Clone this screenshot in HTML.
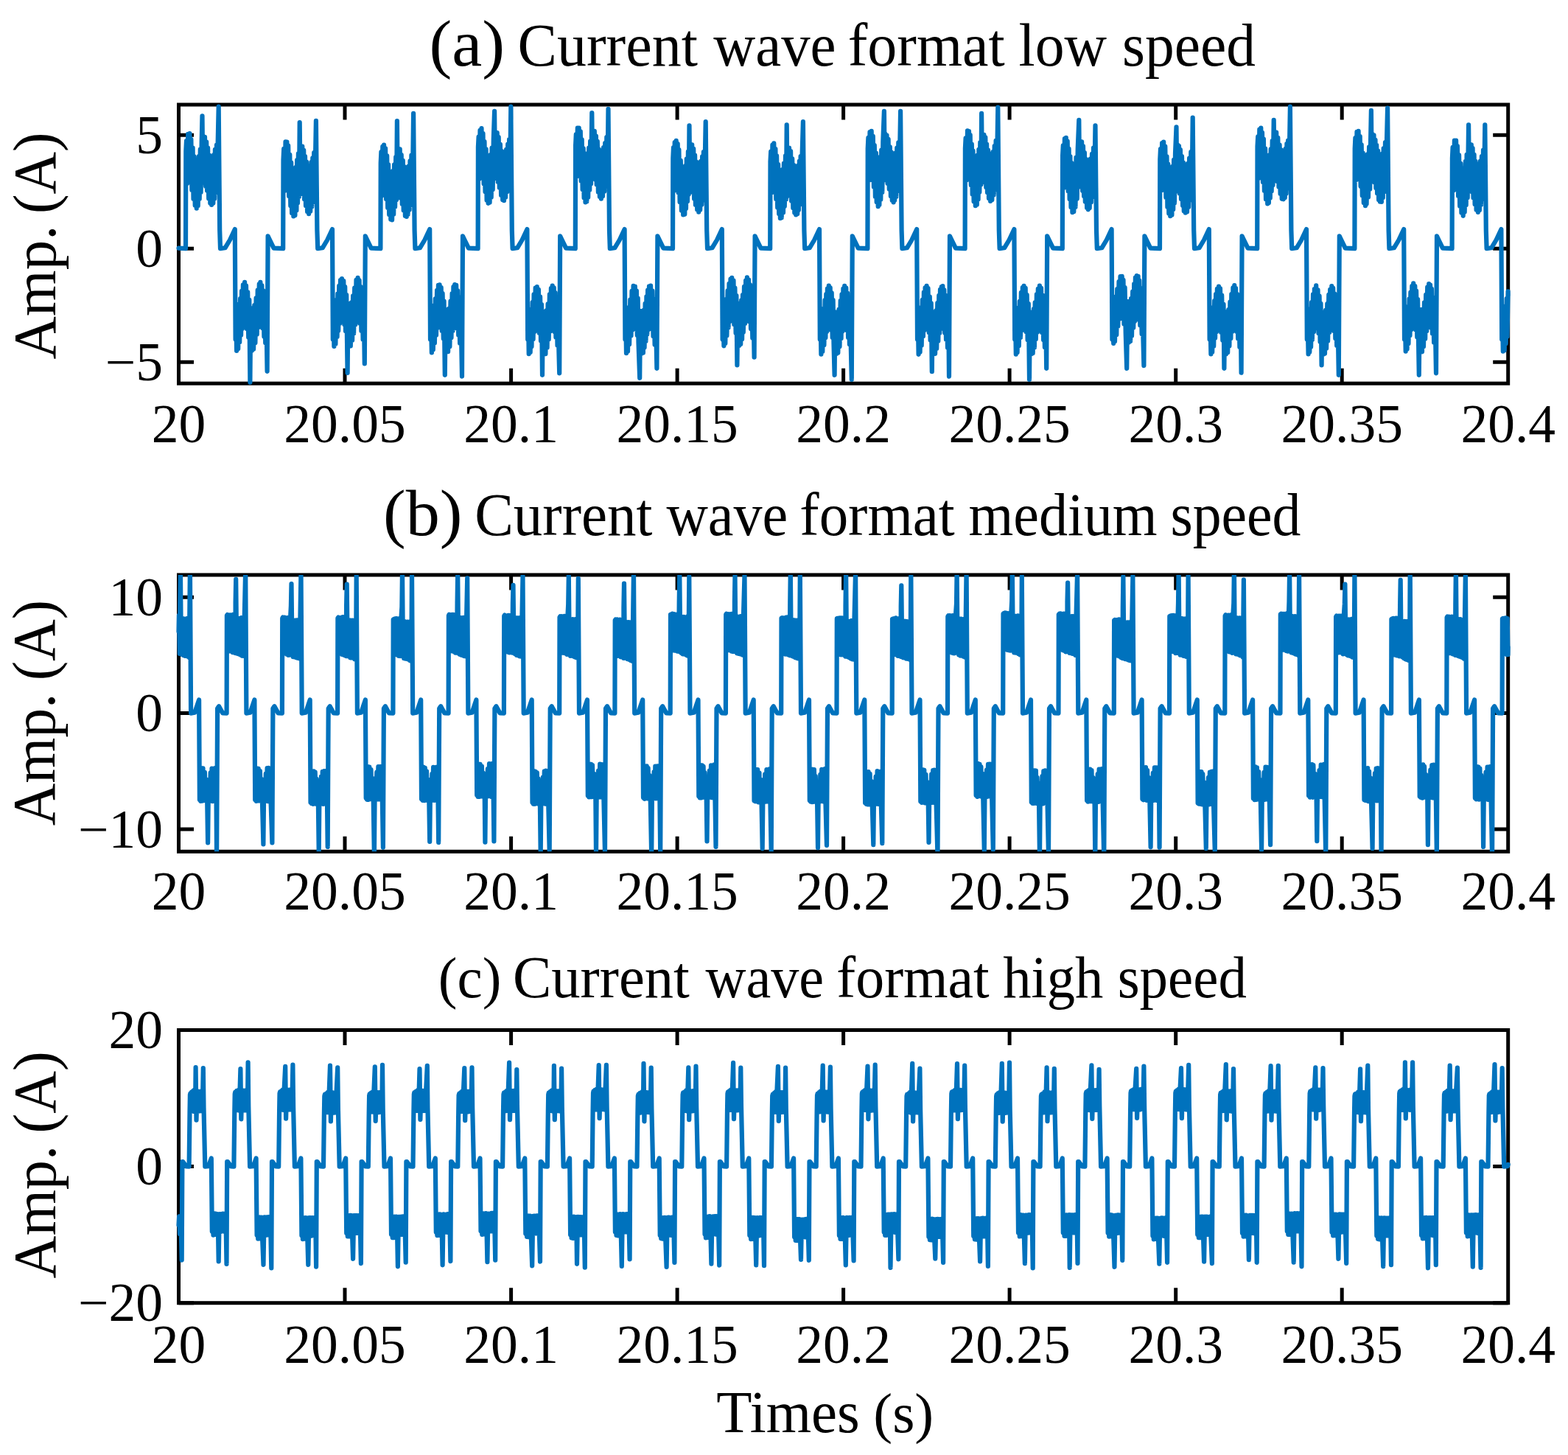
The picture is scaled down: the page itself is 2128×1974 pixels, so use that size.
<!DOCTYPE html><html><head><meta charset="utf-8"><title>Current wave format</title>
<style>html,body{margin:0;padding:0;background:#fff;overflow:hidden;}svg{display:block;}text{font-family:'Liberation Serif','Times New Roman',Times,serif;fill:#000;}</style></head><body>
<svg width="2128" height="1974" viewBox="0 0 2128 1974">
<rect width="2128" height="1974" fill="#fff"/>
<g stroke="#000" stroke-width="5.0" fill="none">
<rect x="242.5" y="142.0" width="1804.2" height="378.2"/>
<path d="M468.0 520.2v-20.5M468.0 142.0v20.5M693.6 520.2v-20.5M693.6 142.0v20.5M919.1 520.2v-20.5M919.1 142.0v20.5M1144.6 520.2v-20.5M1144.6 142.0v20.5M1370.1 520.2v-20.5M1370.1 142.0v20.5M1595.7 520.2v-20.5M1595.7 142.0v20.5M1821.2 520.2v-20.5M1821.2 142.0v20.5M242.5 183.2h20.5M2046.7 183.2h-20.5M242.5 337.2h20.5M2046.7 337.2h-20.5M242.5 491.2h20.5M2046.7 491.2h-20.5"/>
</g>
<polyline fill="none" stroke="#0072BD" stroke-width="6.2" stroke-linejoin="round" stroke-linecap="round" points="242.5,336.7 251.7,337.2 252.0,337.2 252.3,205.1 253.0,191.2 254.1,249.0 255.2,181.8 256.3,243.8 257.4,181.0 258.3,246.9 259.4,189.2 260.4,257.9 261.6,200.6 262.5,270.0 263.6,212.3 264.7,278.8 265.8,220.2 266.8,282.7 267.7,218.5 268.7,279.3 269.9,212.0 270.7,270.0 271.8,202.5 272.6,261.0 273.7,192.5 274.5,157.3 275.3,232.8 276.0,186.2 277.1,247.6 278.0,185.8 279.2,252.8 280.2,192.6 281.1,258.8 282.1,200.5 283.2,269.4 284.4,210.9 285.3,275.6 286.2,214.9 287.1,278.0 288.1,214.5 289.3,275.7 290.3,209.9 291.1,269.8 291.9,202.8 292.9,261.8 294.0,196.5 294.9,256.0 295.7,191.0 296.7,144.7 298.2,312.6 299.0,337.2 305.5,336.3 312.0,325.5 318.8,311.0 319.6,460.4 320.3,420.3 321.1,476.0 322.1,419.5 323.2,473.3 324.3,412.7 325.2,464.3 326.1,405.2 327.1,454.8 328.0,394.9 328.9,445.9 329.9,386.3 331.0,439.3 332.1,382.8 333.0,440.4 334.0,387.6 335.0,446.3 336.2,396.4 337.2,457.8 338.3,406.9 339.4,518.6 340.2,429.6 341.0,418.1 341.9,475.8 343.0,420.0 344.1,473.6 345.3,414.2 346.4,465.3 347.6,404.3 348.7,453.7 349.7,393.6 350.6,444.3 351.8,385.3 352.6,439.8 353.4,382.9 354.3,439.3 355.4,387.3 356.2,445.3 357.3,394.3 358.4,456.7 359.4,405.1 360.2,465.1 361.2,415.0 362.6,503.8 363.6,320.3 365.0,323.3 371.5,336.6 383.9,337.2 384.2,337.2 384.5,216.8 385.2,201.9 386.4,259.0 387.5,192.3 388.5,255.0 389.4,192.6 390.4,258.2 391.2,197.5 392.2,266.1 393.3,209.9 394.3,279.3 395.2,220.7 396.1,289.2 397.3,230.1 398.3,293.5 399.3,230.9 400.4,292.3 401.3,227.0 402.4,285.5 403.2,217.0 404.0,275.5 404.9,208.3 405.9,266.9 406.7,166.0 407.5,244.5 408.2,198.3 409.3,259.2 410.3,198.7 411.2,263.2 412.2,203.9 413.1,270.5 414.0,212.1 415.0,279.3 416.0,219.6 417.1,287.1 418.0,225.1 419.1,290.2 420.0,226.6 421.2,286.6 422.4,220.2 423.3,280.4 424.3,214.4 425.2,274.3 426.2,207.0 427.0,267.8 428.9,163.8 430.4,312.6 431.2,337.2 437.7,336.3 444.2,325.5 451.0,311.0 451.8,460.4 452.5,414.4 453.4,469.9 454.5,412.4 455.4,466.6 456.5,407.1 457.6,456.9 458.4,398.3 459.2,448.7 460.2,387.9 461.1,439.0 462.0,380.2 463.2,434.1 464.0,378.0 465.2,433.5 466.3,381.2 467.3,440.1 468.2,389.1 469.0,449.3 470.2,400.2 471.6,506.0 472.4,429.6 473.2,411.8 474.2,468.8 475.0,414.1 475.8,469.4 477.0,410.3 478.1,461.8 479.1,401.4 480.1,452.4 481.2,390.6 482.3,440.4 483.5,379.9 484.4,434.3 485.6,376.9 486.7,434.2 487.6,380.4 488.5,439.0 489.5,389.2 490.4,449.0 491.5,399.4 492.6,460.7 493.6,408.7 494.8,493.4 495.8,320.3 497.2,323.3 503.7,336.6 516.1,337.2 516.4,337.2 516.7,221.1 517.4,206.0 518.2,265.7 519.3,198.9 520.3,258.5 521.1,196.7 522.0,260.1 523.1,201.4 524.1,270.1 525.2,211.3 526.2,282.0 527.1,223.3 528.2,291.1 529.3,234.2 530.3,297.7 531.3,235.7 532.1,298.5 533.1,232.2 534.2,290.7 535.1,223.4 536.1,280.8 537.2,213.1 538.0,271.3 538.9,164.1 539.7,248.8 540.4,202.5 541.5,264.0 542.7,202.4 543.5,268.7 544.7,210.0 545.8,276.9 546.8,217.8 547.7,285.4 548.9,226.3 549.9,293.0 551.0,230.6 551.8,293.9 552.8,230.3 553.6,290.9 554.5,225.7 555.6,284.7 556.5,218.4 557.4,278.3 558.4,210.6 559.6,271.8 561.1,153.9 562.6,312.6 563.4,337.2 569.9,336.3 576.4,325.5 583.2,311.0 584.0,460.4 584.7,422.5 585.9,478.4 586.9,421.4 587.8,474.5 588.8,414.6 589.9,465.5 590.8,405.4 592.0,454.8 593.1,393.8 593.9,444.9 594.9,386.9 595.7,441.3 596.6,386.3 597.6,442.5 598.7,390.2 599.7,449.0 600.6,398.2 601.8,459.4 602.6,408.7 603.8,508.8 604.6,429.6 605.4,420.1 606.3,477.4 607.2,422.0 608.1,477.2 609.3,418.6 610.4,470.1 611.5,408.6 612.5,458.2 613.6,398.0 614.5,448.9 615.4,389.2 616.4,442.9 617.2,386.2 618.3,440.5 619.2,386.9 620.3,445.6 621.1,394.3 622.2,454.7 623.1,403.7 624.1,465.7 625.3,414.5 627.0,510.6 628.0,320.3 629.4,323.3 635.9,336.6 648.3,337.2 648.6,337.2 648.9,199.2 649.6,185.5 650.5,242.7 651.5,176.8 652.4,237.0 653.5,174.1 654.5,240.1 655.5,181.0 656.6,249.5 657.5,192.2 658.5,260.3 659.6,202.4 660.6,271.8 661.4,211.3 662.6,275.8 663.4,213.6 664.6,274.6 665.6,210.0 666.7,267.8 667.6,200.7 668.7,257.1 669.8,188.9 671.1,150.9 671.9,226.9 672.6,179.1 673.7,242.3 674.7,180.2 675.8,246.9 676.7,186.2 677.8,254.8 678.9,195.8 680.1,265.0 681.1,205.0 682.2,271.1 683.2,209.0 684.0,272.2 685.2,207.7 686.1,267.8 687.1,202.9 688.3,260.2 689.2,195.5 690.2,254.3 691.1,189.2 692.1,249.1 693.3,144.7 694.8,312.6 695.6,337.2 702.1,336.3 708.6,325.5 715.4,311.0 716.2,460.4 716.9,425.4 717.7,480.2 718.6,425.2 719.7,478.0 720.6,419.9 721.5,470.2 722.6,410.0 723.6,460.1 724.6,399.4 725.8,450.0 726.7,390.7 727.9,444.0 728.8,389.1 730.0,446.0 730.9,392.8 731.9,452.0 733.1,402.7 734.0,462.4 735.0,413.2 736.0,508.8 736.8,429.6 737.6,422.9 738.6,479.9 739.5,425.5 740.4,480.2 741.4,421.3 742.6,471.8 743.6,412.3 744.7,460.4 745.9,399.3 747.0,449.4 747.9,391.1 748.7,444.8 749.7,387.6 750.8,444.9 751.7,390.3 752.6,450.2 753.5,397.1 754.4,457.6 755.4,408.1 756.5,468.6 757.4,418.6 758.4,476.8 759.2,506.3 760.2,320.3 761.6,323.3 768.1,336.6 780.5,337.2 780.8,337.2 781.1,197.1 781.8,182.3 782.9,239.4 783.8,173.7 784.7,235.5 785.7,173.5 786.9,238.5 787.8,178.3 788.7,245.7 789.7,189.4 790.6,257.3 791.7,201.3 792.6,268.5 793.5,208.0 794.5,274.5 795.5,211.3 796.3,273.4 797.1,209.0 798.2,267.8 799.2,200.5 800.2,257.8 801.1,191.7 802.0,249.5 803.3,153.0 804.1,224.8 804.8,177.1 805.8,240.2 806.8,177.9 808.0,243.8 808.9,184.6 809.7,250.5 810.8,191.8 811.9,260.7 812.9,202.5 813.9,266.9 814.9,207.1 815.9,269.7 817.0,205.5 818.0,266.2 819.1,200.0 820.2,259.7 821.2,194.1 822.3,253.2 823.3,186.0 824.4,246.1 825.5,147.8 827.0,312.6 827.8,337.2 834.3,336.3 840.8,325.5 847.6,311.0 848.4,460.4 849.1,423.5 850.0,479.1 850.9,423.6 852.0,476.6 853.1,417.3 854.1,467.3 855.3,406.7 856.5,455.5 857.5,394.9 858.4,447.6 859.6,387.8 860.6,442.2 861.8,388.6 862.9,446.2 863.9,394.6 864.8,454.9 865.7,404.5 866.5,464.7 868.2,512.8 869.0,429.6 869.8,422.1 870.7,479.7 871.8,424.4 872.9,478.6 873.7,420.9 874.6,471.4 875.6,411.9 876.5,462.9 877.4,402.4 878.3,453.4 879.1,393.7 880.0,447.1 881.0,388.4 882.0,443.1 883.1,387.7 884.2,446.1 885.4,394.7 886.5,456.1 887.5,405.9 888.6,467.7 889.7,417.1 891.4,499.8 892.4,320.3 893.8,323.3 900.3,336.6 912.7,337.2 913.0,337.2 913.3,214.6 914.0,200.0 914.9,258.7 915.7,193.1 916.7,253.1 917.7,190.8 918.8,254.6 919.7,195.1 920.6,261.5 921.4,203.0 922.6,274.1 923.8,217.8 924.9,285.6 926.0,227.1 927.2,291.4 928.3,229.8 929.3,290.8 930.1,224.9 931.0,283.0 931.8,215.7 933.0,273.1 933.9,205.5 934.7,263.8 935.5,170.3 936.3,242.3 937.0,195.8 938.0,258.6 939.2,196.3 940.1,260.9 941.2,201.9 942.1,269.8 943.1,210.7 943.9,278.0 945.1,219.7 946.2,284.5 947.3,224.9 948.2,287.7 949.1,223.0 950.2,284.8 951.1,218.8 952.3,277.8 953.1,212.4 954.0,271.7 954.9,206.1 955.8,266.2 957.7,165.0 959.2,312.6 960.0,337.2 966.5,336.3 973.0,325.5 979.8,311.0 980.6,460.4 981.3,412.8 982.4,469.3 983.4,412.6 984.3,466.0 985.4,406.1 986.4,455.5 987.6,394.4 988.6,444.4 989.5,384.8 990.4,436.2 991.5,378.5 992.4,432.4 993.3,376.8 994.3,432.8 995.5,380.6 996.3,440.2 997.4,390.5 998.6,452.0 999.4,401.1 1000.4,495.5 1001.2,429.6 1002.0,411.5 1003.1,469.0 1004.1,413.1 1005.2,467.0 1006.2,407.3 1007.1,460.3 1008.0,400.0 1008.8,450.7 1010.0,388.9 1011.1,439.0 1012.1,380.6 1013.1,432.9 1013.9,376.3 1015.0,432.3 1016.1,379.5 1017.0,436.5 1018.0,386.3 1019.0,446.3 1020.1,398.0 1021.3,458.8 1022.3,407.2 1023.6,484.7 1024.6,320.3 1026.0,323.3 1032.5,336.6 1044.9,337.2 1045.2,337.2 1045.5,219.2 1046.2,205.5 1047.2,261.8 1048.4,196.5 1049.3,256.7 1050.3,194.4 1051.5,259.8 1052.4,202.1 1053.3,270.2 1054.1,211.3 1055.2,281.7 1056.1,223.0 1057.2,290.2 1058.1,230.8 1058.9,296.1 1059.9,234.2 1060.7,295.4 1061.9,230.0 1063.0,288.5 1063.9,221.7 1064.8,279.9 1066.0,211.3 1066.9,270.4 1067.7,169.3 1068.5,247.0 1069.2,200.9 1070.2,262.6 1071.0,200.5 1072.1,266.0 1073.1,205.2 1074.1,272.6 1075.2,215.3 1076.3,282.2 1077.3,224.2 1078.3,288.8 1079.2,228.8 1080.2,291.5 1081.1,227.6 1082.2,290.3 1083.1,224.6 1083.9,284.9 1084.9,218.6 1085.7,277.4 1086.6,212.1 1087.7,271.6 1088.7,206.5 1089.9,165.0 1091.4,312.6 1092.2,337.2 1098.7,336.3 1105.2,325.5 1112.0,311.0 1112.8,460.4 1113.5,423.3 1114.4,480.6 1115.5,423.0 1116.3,476.9 1117.3,419.1 1118.4,468.2 1119.6,407.2 1120.4,458.1 1121.3,399.0 1122.1,449.9 1122.9,391.6 1123.9,444.3 1124.8,387.5 1125.7,443.8 1126.7,390.4 1127.6,447.6 1128.7,397.3 1129.7,458.0 1130.6,407.1 1131.5,466.7 1132.6,508.8 1133.4,429.6 1134.2,423.5 1135.3,480.0 1136.4,423.6 1137.3,478.6 1138.5,419.8 1139.5,470.3 1140.7,407.9 1141.6,459.3 1142.5,399.4 1143.4,449.5 1144.4,391.5 1145.4,443.8 1146.2,387.9 1147.2,443.0 1148.3,390.6 1149.1,448.1 1150.1,397.6 1151.1,458.0 1152.1,407.4 1152.9,467.3 1153.9,417.4 1154.9,475.2 1155.8,514.9 1156.8,320.3 1158.2,323.3 1164.7,336.6 1177.1,337.2 1177.4,337.2 1177.7,201.7 1178.4,186.8 1179.4,244.6 1180.5,179.1 1181.5,240.0 1182.7,177.9 1183.7,244.1 1184.8,184.9 1185.9,253.6 1186.8,197.1 1187.9,267.0 1188.9,207.7 1189.7,274.2 1190.7,215.5 1191.7,280.2 1192.5,216.9 1193.4,278.0 1194.3,213.1 1195.3,270.6 1196.2,203.6 1197.3,260.9 1198.3,192.5 1199.9,150.9 1200.7,229.4 1201.4,181.6 1202.3,244.5 1203.5,183.5 1204.6,249.0 1205.6,188.8 1206.8,256.8 1207.8,199.4 1208.9,266.3 1209.8,206.5 1210.8,272.0 1211.7,211.4 1212.6,274.4 1213.4,211.8 1214.2,271.7 1215.3,207.5 1216.3,266.9 1217.3,200.5 1218.4,259.1 1219.3,193.3 1220.3,253.4 1222.1,150.9 1223.6,312.6 1224.4,337.2 1230.9,336.3 1237.4,325.5 1244.2,311.0 1245.0,460.4 1245.7,424.0 1246.6,480.8 1247.5,424.6 1248.6,477.8 1249.8,417.4 1250.7,468.7 1251.8,406.8 1252.9,456.2 1253.9,396.4 1254.7,447.9 1255.6,390.3 1256.7,444.5 1257.6,387.8 1258.6,444.9 1259.5,391.1 1260.7,451.2 1261.8,402.5 1262.6,461.4 1263.7,411.3 1264.8,504.1 1265.6,429.6 1266.4,423.3 1267.2,480.0 1268.2,425.2 1269.1,479.9 1270.3,421.4 1271.2,473.0 1272.3,411.2 1273.3,462.6 1274.3,400.9 1275.2,452.0 1276.0,392.8 1276.9,446.0 1277.8,389.0 1278.6,443.6 1279.4,388.2 1280.3,445.1 1281.3,393.4 1282.2,451.7 1283.0,400.5 1284.0,460.8 1284.8,410.8 1286.0,471.7 1287.2,421.3 1288.0,510.6 1289.0,320.3 1290.4,323.3 1296.9,336.6 1309.3,337.2 1309.6,337.2 1309.9,201.1 1310.6,187.3 1311.8,244.5 1313.0,177.4 1314.1,239.6 1315.0,178.2 1315.8,241.7 1316.7,183.2 1317.8,251.2 1318.8,195.6 1319.7,263.7 1320.5,204.6 1321.6,273.5 1322.7,214.1 1323.8,279.2 1324.9,214.6 1325.8,277.6 1326.7,210.4 1327.6,270.5 1328.4,202.8 1329.3,260.8 1330.3,193.0 1331.4,250.6 1332.1,153.9 1332.9,228.8 1333.6,182.1 1334.5,244.9 1335.4,182.8 1336.4,247.3 1337.3,186.4 1338.3,254.1 1339.1,195.5 1340.0,261.2 1341.0,203.7 1342.0,269.1 1342.9,208.9 1344.1,273.0 1345.2,211.0 1346.3,271.2 1347.5,206.2 1348.7,264.4 1349.7,198.1 1350.6,257.6 1351.6,190.8 1352.6,251.4 1354.3,145.6 1355.8,312.6 1356.6,337.2 1363.1,336.3 1369.6,325.5 1376.4,311.0 1377.2,460.4 1377.9,423.5 1378.8,480.6 1379.7,424.1 1380.6,478.1 1381.8,417.9 1382.8,469.1 1383.8,408.9 1385.0,457.9 1385.9,396.9 1386.9,448.3 1387.8,390.1 1388.8,443.8 1389.6,387.8 1390.6,444.6 1391.7,390.9 1392.5,450.2 1393.7,400.1 1394.6,461.2 1395.8,412.0 1397.0,514.9 1397.8,429.6 1398.6,423.6 1399.8,480.3 1400.7,424.2 1401.7,479.3 1402.9,419.0 1403.9,471.4 1404.7,410.4 1405.8,460.2 1406.9,399.3 1407.9,450.6 1408.8,391.8 1409.9,443.6 1410.9,387.5 1411.9,443.8 1413.0,390.9 1414.1,451.2 1415.3,400.8 1416.1,461.1 1417.0,411.2 1417.9,471.2 1419.1,420.7 1420.2,499.8 1421.2,320.3 1422.6,323.3 1429.1,336.6 1441.5,337.2 1441.8,337.2 1442.1,210.9 1442.8,197.3 1443.9,254.9 1444.9,188.2 1446.0,248.9 1446.8,186.8 1447.7,251.6 1448.7,191.6 1449.7,259.4 1450.6,201.8 1451.6,270.2 1452.4,212.2 1453.5,281.1 1454.3,221.2 1455.4,288.2 1456.4,226.1 1457.3,287.2 1458.4,222.7 1459.5,280.9 1460.5,213.5 1461.7,269.8 1462.7,202.2 1464.3,162.9 1465.1,238.6 1465.8,192.1 1466.9,253.7 1468.1,192.4 1469.1,259.0 1470.0,198.4 1471.1,266.1 1471.9,207.2 1472.8,273.8 1474.0,216.0 1475.1,281.9 1476.0,220.4 1476.8,284.3 1477.7,220.4 1478.7,282.2 1479.8,215.6 1480.8,274.4 1482.0,208.8 1482.9,267.1 1484.0,200.6 1484.9,262.1 1486.5,170.3 1488.0,312.6 1488.8,337.2 1495.3,336.3 1501.8,325.5 1508.6,311.0 1509.4,460.4 1510.1,410.7 1511.2,465.9 1512.1,409.6 1513.0,463.1 1514.1,402.7 1515.3,454.1 1516.2,392.2 1517.3,442.8 1518.5,382.0 1519.5,432.7 1520.5,375.1 1521.7,428.5 1522.7,374.9 1523.6,432.3 1524.5,379.8 1525.5,439.6 1526.6,390.1 1527.7,451.6 1529.2,499.8 1530.0,429.6 1530.8,409.1 1531.8,464.8 1532.9,409.5 1534.1,462.9 1535.0,405.2 1536.0,455.7 1537.2,395.5 1538.2,444.6 1539.2,385.1 1540.0,436.0 1540.9,376.7 1541.8,430.1 1542.7,374.2 1543.6,429.3 1544.6,374.8 1545.5,433.9 1546.3,380.5 1547.3,441.4 1548.4,391.1 1549.6,453.3 1550.4,402.5 1551.5,462.3 1552.4,496.1 1553.4,320.3 1554.8,323.3 1561.3,336.6 1573.7,337.2 1574.0,337.2 1574.3,216.5 1575.0,202.0 1576.1,258.5 1577.1,194.1 1578.0,253.9 1579.2,192.6 1580.2,257.9 1581.3,198.7 1582.4,268.0 1583.5,212.3 1584.4,280.9 1585.3,222.7 1586.3,289.6 1587.3,229.9 1588.2,293.2 1589.4,231.7 1590.4,291.6 1591.3,225.8 1592.2,284.1 1593.1,216.9 1594.0,275.4 1595.0,208.0 1596.5,172.4 1597.3,244.2 1598.0,196.4 1598.8,259.7 1600.0,198.0 1601.0,262.7 1601.9,203.1 1603.0,270.1 1604.0,212.1 1605.1,279.0 1605.9,220.7 1606.8,286.5 1607.8,224.6 1608.8,288.7 1609.8,226.7 1611.0,287.4 1612.0,221.8 1613.1,281.0 1614.1,214.5 1615.2,271.6 1616.3,206.1 1617.5,266.5 1618.7,159.5 1620.2,312.6 1621.0,337.2 1627.5,336.3 1634.0,325.5 1640.8,311.0 1641.6,460.4 1642.3,423.6 1643.4,480.5 1644.2,423.8 1645.2,477.7 1646.4,416.9 1647.2,469.6 1648.2,408.1 1649.1,458.8 1650.1,399.0 1651.0,450.1 1651.9,391.9 1653.0,444.4 1654.0,388.7 1654.9,443.9 1656.0,391.4 1657.2,451.0 1658.2,400.7 1659.3,461.6 1660.5,412.9 1661.4,499.8 1662.2,429.6 1663.0,423.1 1664.0,480.4 1665.1,424.8 1666.2,478.2 1667.3,420.1 1668.4,469.5 1669.4,409.7 1670.4,459.1 1671.3,399.1 1672.3,449.9 1673.4,390.4 1674.3,444.4 1675.3,387.2 1676.2,444.5 1677.1,391.0 1678.2,449.9 1679.1,399.2 1680.2,459.5 1681.3,410.3 1682.4,471.0 1683.6,419.8 1684.6,505.7 1685.6,320.3 1687.0,323.3 1693.5,336.6 1705.9,337.2 1706.2,337.2 1706.5,198.6 1707.2,185.3 1708.3,241.9 1709.3,175.7 1710.2,237.7 1711.3,173.7 1712.1,239.4 1713.0,179.8 1714.0,247.2 1714.9,188.5 1715.9,258.9 1717.1,201.7 1718.0,270.5 1719.1,211.3 1720.2,276.4 1721.1,213.8 1721.9,275.3 1722.8,210.4 1723.8,268.7 1724.7,202.3 1725.7,259.5 1726.7,191.1 1727.5,251.1 1728.7,162.9 1729.5,226.3 1730.2,179.2 1731.2,242.2 1732.2,179.6 1733.4,246.2 1734.3,186.9 1735.5,253.6 1736.6,196.6 1737.6,262.9 1738.7,203.4 1739.7,269.8 1740.6,208.7 1741.8,270.3 1743.0,206.3 1743.8,268.2 1744.6,201.9 1745.5,262.8 1746.4,194.8 1747.2,255.6 1748.1,190.6 1749.1,250.6 1750.9,144.7 1752.4,312.6 1753.2,337.2 1759.7,336.3 1766.2,325.5 1773.0,311.0 1773.8,460.4 1774.5,423.7 1775.6,480.4 1776.4,424.1 1777.3,477.6 1778.3,418.8 1779.1,470.7 1780.1,410.0 1780.9,460.9 1782.0,399.3 1783.0,450.1 1783.9,392.0 1785.0,445.2 1786.2,387.3 1787.3,445.3 1788.5,393.3 1789.5,452.2 1790.6,401.7 1791.6,463.7 1792.5,411.9 1793.6,495.5 1794.4,429.6 1795.2,423.8 1796.0,480.6 1797.2,425.6 1798.0,479.8 1799.1,420.8 1800.1,472.6 1801.3,412.0 1802.1,462.7 1803.3,399.9 1804.3,451.0 1805.2,392.9 1806.3,444.2 1807.3,388.0 1808.3,444.2 1809.2,390.8 1810.4,449.2 1811.3,398.6 1812.3,459.2 1813.2,408.8 1814.2,468.9 1815.3,418.9 1816.8,508.8 1817.8,320.3 1819.2,323.3 1825.7,336.6 1838.1,337.2 1838.4,337.2 1838.7,201.7 1839.4,187.0 1840.4,244.3 1841.5,178.9 1842.4,239.7 1843.6,177.8 1844.5,243.5 1845.7,185.1 1846.6,252.8 1847.7,196.4 1848.8,265.4 1849.7,207.5 1850.8,275.3 1852.0,216.5 1853.0,279.1 1853.8,215.2 1854.6,276.6 1855.8,209.4 1857.0,267.4 1858.1,199.4 1859.2,256.7 1860.1,189.7 1860.9,149.9 1861.7,229.4 1862.4,181.8 1863.5,245.7 1864.5,183.3 1865.3,247.5 1866.5,189.9 1867.4,255.3 1868.2,196.8 1869.1,262.5 1870.1,204.5 1871.1,271.3 1872.1,209.5 1872.9,273.6 1873.8,211.8 1874.9,273.9 1875.9,208.7 1876.8,268.1 1877.7,201.4 1878.9,260.2 1880.0,193.1 1880.9,253.0 1882.1,187.3 1883.1,146.5 1884.6,312.6 1885.4,337.2 1891.9,336.3 1898.4,325.5 1905.2,311.0 1906.0,460.4 1906.7,420.8 1907.7,476.6 1908.5,421.8 1909.6,473.7 1910.4,416.4 1911.5,466.3 1912.6,405.3 1913.5,455.2 1914.4,396.5 1915.3,447.3 1916.3,388.2 1917.3,440.9 1918.2,384.3 1919.3,441.0 1920.3,388.1 1921.2,447.5 1922.1,394.7 1923.3,457.4 1924.1,406.0 1925.8,508.8 1926.6,429.6 1927.4,420.2 1928.3,477.3 1929.2,421.7 1930.0,477.3 1930.9,419.7 1932.0,470.3 1933.0,410.4 1934.2,459.7 1935.2,399.9 1936.2,449.1 1937.2,389.5 1938.2,441.5 1939.2,385.2 1940.2,441.4 1941.1,386.7 1942.0,444.8 1942.9,391.8 1944.0,452.8 1945.1,403.9 1946.1,464.6 1947.3,414.8 1949.0,506.3 1950.0,320.3 1951.4,323.3 1957.9,336.6 1970.3,337.2 1970.6,337.2 1970.9,214.6 1971.6,199.8 1972.7,258.5 1973.9,190.7 1975.0,253.1 1976.1,190.6 1977.0,257.1 1977.9,198.2 1979.1,266.0 1980.1,210.4 1981.2,279.8 1982.4,221.9 1983.4,288.8 1984.5,229.8 1985.7,292.8 1986.6,228.4 1987.7,287.8 1988.9,218.9 1989.7,278.1 1990.6,209.8 1991.7,268.2 1993.1,169.3 1993.9,242.3 1994.6,195.3 1995.8,258.1 1996.8,196.4 1997.7,260.5 1998.6,201.0 1999.5,268.4 2000.6,209.9 2001.6,277.2 2002.5,218.9 2003.6,284.8 2004.7,224.2 2005.9,288.0 2006.8,222.7 2007.9,285.2 2009.0,218.5 2009.9,277.9 2010.9,212.1 2012.0,270.0 2013.0,203.6 2013.9,264.2 2015.3,169.3 2016.8,312.6 2017.6,337.2 2024.1,336.3 2030.6,325.5 2037.4,311.0 2038.2,460.4 2038.9,421.7 2039.8,476.6 2040.7,421.6 2041.7,475.4 2042.7,415.7 2043.7,466.1 2044.7,405.2 2045.5,456.7 2046.6,395.4 2046.7,400.7"/>
<text x="242.5" y="599.8" font-size="73.5" text-anchor="middle">20</text>
<text x="468.0" y="599.8" font-size="73.5" text-anchor="middle">20.05</text>
<text x="693.6" y="599.8" font-size="73.5" text-anchor="middle">20.1</text>
<text x="919.1" y="599.8" font-size="73.5" text-anchor="middle">20.15</text>
<text x="1144.6" y="599.8" font-size="73.5" text-anchor="middle">20.2</text>
<text x="1370.1" y="599.8" font-size="73.5" text-anchor="middle">20.25</text>
<text x="1595.7" y="599.8" font-size="73.5" text-anchor="middle">20.3</text>
<text x="1821.2" y="599.8" font-size="73.5" text-anchor="middle">20.35</text>
<text x="2046.7" y="599.8" font-size="73.5" text-anchor="middle">20.4</text>
<text x="221" y="207.6" font-size="73.5" text-anchor="end">5</text>
<text x="221" y="361.6" font-size="73.5" text-anchor="end">0</text>
<text x="221" y="515.6" font-size="73.5" text-anchor="end">−5</text>
<text x="582.44" y="88.80" font-size="89.00" textLength="102.63" lengthAdjust="spacingAndGlyphs">(a)</text>
<text x="702.52" y="88.80" font-size="83.00" textLength="244.45" lengthAdjust="spacingAndGlyphs">Current</text>
<text x="968.32" y="88.80" font-size="83.00" textLength="166.21" lengthAdjust="spacingAndGlyphs">wave</text>
<text x="1150.74" y="88.80" font-size="83.00" textLength="213.03" lengthAdjust="spacingAndGlyphs">format</text>
<text x="1382.61" y="88.80" font-size="83.00" textLength="119.34" lengthAdjust="spacingAndGlyphs">low</text>
<text x="1523.04" y="88.80" font-size="83.00" textLength="180.93" lengthAdjust="spacingAndGlyphs">speed</text>
<g transform="translate(75.3,0) rotate(-90)">
<text x="-487.49" y="0.00" font-size="82.00" textLength="181.82" lengthAdjust="spacingAndGlyphs">Amp.</text>
<text x="-290.10" y="0.00" font-size="82.00" textLength="110.50" lengthAdjust="spacingAndGlyphs">(A)</text>
</g>
<g stroke="#000" stroke-width="5.0" fill="none">
<rect x="242.5" y="780.0" width="1804.2" height="375.3"/>
<path d="M468.0 1155.3v-20.5M468.0 780.0v20.5M693.6 1155.3v-20.5M693.6 780.0v20.5M919.1 1155.3v-20.5M919.1 780.0v20.5M1144.6 1155.3v-20.5M1144.6 780.0v20.5M1370.1 1155.3v-20.5M1370.1 780.0v20.5M1595.7 1155.3v-20.5M1595.7 780.0v20.5M1821.2 1155.3v-20.5M1821.2 780.0v20.5M242.5 810.2h20.5M2046.7 810.2h-20.5M242.5 967.6h20.5M2046.7 967.6h-20.5M242.5 1125.0h20.5M2046.7 1125.0h-20.5"/>
</g>
<clipPath id="clb"><rect x="0" y="780.0" width="2128" height="375.3"/></clipPath>
<polyline clip-path="url(#clb)" fill="none" stroke="#0072BD" stroke-width="6.2" stroke-linejoin="round" stroke-linecap="round" points="242.5,856.9 242.9,834.9 243.8,887.0 244.3,818.7 244.9,771.1 245.7,859.7 246.3,839.5 247.2,888.1 248.3,839.1 249.2,889.1 250.1,839.7 251.0,890.0 251.9,839.8 252.8,889.5 253.7,839.1 254.8,890.7 255.7,839.5 256.7,892.1 257.9,770.3 259.1,967.6 264.3,966.8 270.1,949.5 270.9,1085.0 271.5,1042.8 272.4,1086.9 273.5,1042.0 274.4,1086.6 275.5,1042.3 276.7,1086.1 277.9,1047.8 278.9,1086.0 280.0,1057.6 281.2,1086.7 282.1,1143.5 282.9,1070.8 283.5,1059.5 284.7,1086.8 285.7,1048.3 286.6,1086.1 287.5,1042.5 288.3,1087.1 289.5,1042.8 290.4,1086.6 291.2,1042.4 292.3,1086.2 293.3,1041.9 294.1,1163.9 295.1,961.3 297.1,958.2 302.1,967.3 307.3,967.6 307.6,967.6 307.9,835.1 308.6,834.1 309.7,882.6 310.6,834.7 311.6,883.5 312.6,834.3 313.7,883.3 314.8,834.6 315.8,885.2 316.7,833.7 317.6,885.4 318.6,834.8 319.6,886.1 319.6,817.8 320.2,785.8 321.0,858.8 321.6,838.0 322.4,887.0 323.5,838.8 324.7,887.6 325.7,838.8 326.7,888.7 327.5,838.0 328.5,889.8 329.6,838.2 330.6,890.0 331.7,838.9 333.2,771.4 334.4,967.6 339.6,966.8 345.4,949.5 346.2,1085.1 346.8,1042.1 347.8,1087.0 348.9,1042.4 349.8,1086.4 350.7,1042.8 351.9,1086.4 352.9,1046.0 354.0,1086.6 355.0,1057.0 355.9,1086.3 357.4,1145.5 358.2,1070.9 358.8,1059.9 359.9,1086.7 360.8,1049.7 361.6,1086.7 362.6,1042.1 363.5,1087.1 364.4,1041.9 365.5,1086.0 366.6,1042.9 367.5,1086.2 369.4,1143.4 370.4,961.3 372.4,958.2 377.4,967.3 382.6,967.6 382.9,967.6 383.2,838.9 383.9,837.5 384.9,885.6 386.1,837.5 387.0,886.2 388.0,838.6 389.1,887.6 390.2,838.0 391.3,889.0 392.4,837.9 393.3,888.7 394.1,837.5 394.9,821.6 395.5,792.1 396.3,862.5 396.9,842.1 397.8,891.1 398.8,841.5 399.8,891.5 400.8,841.7 402.0,892.3 403.2,841.3 404.4,892.9 405.3,841.6 406.4,893.5 407.4,841.7 408.5,774.6 409.7,967.6 414.9,966.8 420.7,949.5 421.5,1088.8 422.1,1046.2 422.9,1090.2 423.8,1046.5 424.7,1090.8 425.8,1046.4 426.7,1090.1 427.7,1047.7 428.6,1090.7 429.6,1056.8 430.7,1090.4 431.6,1067.2 432.7,1156.0 433.5,1074.6 434.1,1063.0 435.1,1090.3 435.9,1053.5 436.9,1090.2 437.7,1046.9 438.7,1091.0 439.8,1046.0 440.8,1090.0 441.7,1046.1 442.5,1090.5 443.5,1046.2 444.7,1148.9 445.7,961.3 447.7,958.2 452.7,967.3 457.8,967.6 458.1,967.6 458.4,838.7 459.1,837.6 460.2,886.0 461.0,838.2 462.2,886.4 463.1,837.9 464.2,887.9 465.1,837.2 465.9,888.5 466.9,837.3 467.8,889.1 469.0,837.7 469.8,890.2 470.1,821.4 470.7,792.7 471.5,862.3 472.1,842.4 473.3,890.3 474.1,841.4 475.2,892.3 476.2,841.8 477.1,892.5 478.3,841.6 479.5,892.8 480.6,841.5 481.4,894.5 482.3,842.3 483.1,894.9 483.7,780.0 484.9,967.6 490.1,966.8 495.9,949.5 496.7,1082.8 497.3,1039.6 498.1,1084.8 499.2,1040.2 500.3,1084.8 501.3,1040.7 502.4,1084.2 503.5,1044.0 504.6,1084.3 505.8,1056.0 506.7,1084.5 507.9,1162.3 508.7,1068.6 509.3,1057.1 510.2,1084.6 511.3,1047.7 512.2,1084.5 513.4,1040.1 514.3,1084.4 515.5,1040.2 516.5,1084.5 517.7,1039.9 518.8,1084.0 519.9,1149.8 520.9,961.3 522.9,958.2 527.9,967.3 533.1,967.6 533.4,967.6 533.7,840.4 534.4,839.9 535.3,887.6 536.5,839.3 537.3,888.0 538.2,839.1 539.2,888.6 540.2,840.0 541.1,889.9 542.3,839.2 543.4,890.1 544.4,839.4 545.4,823.1 546.0,773.7 546.8,864.1 547.4,843.7 548.2,893.1 549.1,843.2 550.1,893.6 551.0,844.2 552.0,893.9 553.1,843.7 554.2,894.6 555.3,844.1 556.4,896.3 557.2,843.0 558.3,896.6 559.0,775.0 560.2,967.6 565.4,966.8 571.2,949.5 572.0,1084.0 572.6,1041.2 573.7,1085.8 574.9,1040.9 575.9,1086.2 576.8,1041.8 577.8,1085.6 579.0,1046.4 580.0,1085.7 581.2,1057.8 582.3,1085.7 583.2,1142.0 584.0,1069.9 584.6,1058.8 585.4,1085.1 586.4,1049.8 587.2,1085.6 588.1,1040.9 589.3,1085.8 590.4,1041.8 591.2,1085.7 592.1,1040.9 593.1,1086.1 594.0,1042.0 595.2,1142.9 596.2,961.3 598.2,958.2 603.2,967.3 608.3,967.6 608.6,967.6 608.9,835.1 609.6,833.7 610.5,882.6 611.6,834.0 612.5,883.1 613.6,833.8 614.4,883.6 615.3,833.9 616.2,883.8 617.0,834.9 618.0,885.7 618.9,835.0 620.0,885.6 620.6,817.8 621.2,776.9 622.0,858.8 622.6,837.9 623.6,887.6 624.7,837.8 625.8,888.7 626.9,838.6 627.9,889.3 629.0,837.9 630.1,890.2 631.1,838.1 632.0,890.4 633.1,837.6 634.2,784.4 635.4,967.6 640.6,966.8 646.4,949.5 647.2,1078.8 647.8,1036.4 648.7,1080.9 649.8,1036.7 650.6,1080.9 651.6,1036.8 652.8,1080.5 653.9,1039.5 654.8,1080.4 655.7,1048.6 656.7,1080.6 657.5,1058.1 658.4,1142.6 659.2,1064.6 659.8,1053.8 660.8,1080.8 661.9,1043.2 663.1,1080.0 664.0,1036.1 664.9,1080.0 665.7,1036.7 666.6,1080.9 667.4,1036.2 668.3,1080.7 669.1,1036.5 670.4,1141.5 671.4,961.3 673.4,958.2 678.4,967.3 683.6,967.6 683.9,967.6 684.2,835.7 684.9,834.4 685.8,883.3 686.7,835.5 687.5,882.9 688.4,835.4 689.3,884.7 690.3,834.9 691.3,885.4 692.1,835.6 693.2,884.9 694.2,834.7 695.3,885.7 695.9,818.4 696.5,793.8 697.3,859.3 697.9,839.1 698.9,887.1 700.0,838.2 701.1,888.9 702.2,838.3 703.3,889.5 704.1,838.4 705.3,890.5 706.2,838.1 707.3,890.7 708.4,839.3 709.5,781.3 710.7,967.6 715.9,966.8 721.7,949.5 722.5,1088.7 723.1,1045.7 723.9,1090.8 724.9,1046.1 726.0,1090.8 726.8,1046.8 727.8,1090.0 728.8,1048.3 729.7,1090.4 730.5,1056.4 731.4,1090.0 732.6,1066.4 733.7,1157.8 734.5,1074.6 735.1,1063.1 736.0,1090.5 736.8,1054.6 738.0,1090.0 738.8,1046.4 740.0,1090.7 740.8,1045.7 741.9,1090.9 743.1,1046.7 744.2,1089.7 745.7,1153.8 746.7,961.3 748.7,958.2 753.7,967.3 758.9,967.6 759.2,967.6 759.5,837.3 760.2,836.4 761.2,884.8 762.1,836.1 763.2,885.7 764.1,836.5 765.0,885.9 766.0,835.8 767.2,886.5 768.3,836.0 769.5,887.9 770.4,835.9 771.2,820.0 771.8,780.9 772.6,860.9 773.2,840.4 774.1,890.0 775.2,840.9 776.1,889.4 777.2,840.0 778.1,890.5 779.1,840.9 780.1,891.4 781.1,840.2 782.0,892.1 783.0,839.8 783.9,892.8 784.8,784.9 786.0,967.6 791.2,966.8 797.0,949.5 797.8,1079.5 798.4,1037.2 799.4,1081.5 800.2,1036.7 801.2,1081.2 802.2,1036.9 803.1,1081.2 804.0,1038.0 805.1,1081.0 806.3,1049.9 807.1,1080.8 808.1,1059.4 809.0,1160.5 809.8,1065.3 810.4,1054.5 811.3,1081.2 812.1,1045.5 813.3,1081.4 814.2,1036.5 815.3,1081.5 816.2,1037.2 817.3,1081.4 818.4,1037.5 819.3,1080.8 821.0,1157.0 822.0,961.3 824.0,958.2 829.0,967.3 834.1,967.6 834.4,967.6 834.7,841.5 835.4,840.5 836.3,889.2 837.4,840.3 838.6,889.8 839.4,841.0 840.3,889.4 841.3,840.5 842.3,891.3 843.2,841.0 844.0,891.1 845.2,840.7 846.3,893.0 846.4,824.1 847.0,791.5 847.8,865.1 848.4,844.8 849.6,893.0 850.6,844.0 851.6,894.2 852.8,844.2 853.9,894.9 854.9,844.4 856.1,896.1 857.2,844.3 858.1,897.0 859.0,844.4 860.0,774.4 861.2,967.6 866.4,966.8 872.2,949.5 873.0,1081.9 873.6,1038.7 874.6,1083.8 875.7,1039.5 876.7,1083.1 877.7,1039.4 878.8,1083.4 879.6,1042.2 880.6,1083.5 881.6,1052.1 882.7,1083.6 884.2,1162.4 885.0,1067.7 885.6,1056.6 886.6,1083.6 887.6,1047.1 888.5,1082.9 889.3,1039.5 890.2,1083.4 891.1,1039.7 892.1,1083.2 893.0,1039.4 894.1,1082.8 894.9,1039.4 896.2,1157.1 897.2,961.3 899.2,958.2 904.2,967.3 909.4,967.6 909.7,967.6 910.0,833.8 910.7,833.7 911.6,881.4 912.5,832.5 913.3,882.3 914.4,833.2 915.5,882.6 916.5,833.5 917.6,882.8 918.5,833.7 919.3,883.6 920.2,833.1 921.1,883.9 921.7,816.5 922.3,778.5 923.1,857.5 923.7,837.3 924.6,886.0 925.5,837.6 926.7,887.4 927.6,836.8 928.6,887.1 929.6,837.3 930.5,888.1 931.4,837.4 932.5,889.4 933.5,836.2 934.4,890.2 935.3,782.2 936.5,967.6 941.7,966.8 947.5,949.5 948.3,1080.3 948.9,1037.3 949.9,1082.4 950.7,1038.0 951.7,1082.3 952.8,1038.3 953.8,1081.5 954.6,1039.9 955.4,1081.7 956.4,1048.1 957.5,1082.1 958.4,1058.6 959.5,1141.5 960.3,1066.2 960.9,1055.2 961.7,1081.7 962.9,1045.5 963.9,1081.6 965.0,1038.4 966.0,1082.2 967.0,1038.3 968.1,1081.3 969.3,1037.4 970.4,1082.4 971.5,1148.9 972.5,961.3 974.5,958.2 979.5,967.3 984.6,967.6 984.9,967.6 985.2,833.6 985.9,832.7 986.8,880.1 987.9,833.0 988.9,882.2 990.0,833.3 991.0,882.3 992.0,833.1 992.9,883.7 994.0,832.7 995.0,884.2 995.9,832.3 996.9,884.0 996.9,816.2 997.5,778.6 998.3,857.2 998.9,836.0 1000.1,886.3 1001.1,836.5 1002.0,886.8 1003.1,836.9 1004.2,887.3 1005.1,836.2 1005.9,887.6 1006.9,837.2 1007.9,888.6 1008.9,836.5 1010.5,780.1 1011.7,967.6 1016.9,966.8 1022.7,949.5 1023.5,1086.2 1024.1,1044.3 1025.0,1087.3 1026.0,1043.8 1027.1,1087.2 1028.2,1044.2 1029.3,1088.3 1030.5,1048.6 1031.3,1087.6 1032.3,1057.6 1033.5,1088.1 1034.7,1151.3 1035.5,1072.1 1036.1,1061.2 1037.2,1087.5 1038.2,1050.3 1039.3,1087.6 1040.4,1044.0 1041.4,1087.4 1042.3,1044.2 1043.3,1087.2 1044.2,1043.3 1045.4,1087.6 1046.7,1156.4 1047.7,961.3 1049.7,958.2 1054.7,967.3 1059.9,967.6 1060.2,967.6 1060.5,838.6 1061.2,838.2 1062.1,885.8 1063.1,838.3 1063.9,885.8 1064.8,838.3 1065.9,887.7 1066.9,837.6 1067.9,887.3 1069.0,837.4 1069.8,888.4 1070.9,837.5 1071.8,889.3 1072.2,821.3 1072.8,774.0 1073.6,862.2 1074.2,841.7 1075.3,890.3 1076.3,841.1 1077.1,891.0 1078.3,841.6 1079.3,892.2 1080.1,841.6 1081.0,892.8 1082.2,841.8 1083.1,893.5 1084.0,841.6 1085.1,893.9 1085.8,776.4 1087.0,967.6 1092.2,966.8 1098.0,949.5 1098.8,1086.0 1099.4,1043.6 1100.3,1087.7 1101.1,1043.5 1102.1,1088.2 1103.0,1043.8 1104.0,1087.8 1104.9,1044.2 1106.0,1087.6 1106.8,1053.2 1107.6,1087.4 1108.7,1063.0 1110.0,1150.3 1110.8,1071.8 1111.4,1060.9 1112.5,1087.2 1113.3,1050.8 1114.4,1087.1 1115.2,1043.9 1116.3,1086.9 1117.4,1044.1 1118.5,1088.0 1119.5,1043.0 1120.4,1087.9 1122.0,1147.0 1123.0,961.3 1125.0,958.2 1130.0,967.3 1135.2,967.6 1135.5,967.6 1135.8,839.2 1136.5,838.9 1137.6,886.5 1138.6,838.5 1139.4,887.8 1140.4,838.3 1141.4,888.5 1142.4,838.4 1143.5,888.2 1144.6,838.3 1145.6,889.0 1146.6,838.8 1147.4,890.7 1147.5,821.9 1148.1,773.0 1148.9,862.9 1149.5,841.8 1150.6,891.3 1151.7,842.8 1152.6,892.1 1153.7,843.0 1154.5,893.5 1155.3,842.0 1156.3,894.3 1157.5,842.4 1158.5,894.7 1159.4,843.1 1161.1,773.4 1162.3,967.6 1167.5,966.8 1173.3,949.5 1174.1,1089.3 1174.7,1046.7 1175.8,1090.9 1176.6,1047.3 1177.5,1091.5 1178.6,1047.0 1179.6,1091.5 1180.6,1049.8 1181.6,1090.5 1182.7,1060.2 1183.7,1090.5 1185.3,1146.2 1186.1,1075.1 1186.7,1063.7 1187.7,1090.5 1188.6,1053.6 1189.6,1090.6 1190.6,1046.2 1191.6,1090.8 1192.7,1047.0 1193.8,1090.6 1194.7,1046.8 1195.8,1091.2 1197.3,1144.2 1198.3,961.3 1200.3,958.2 1205.3,967.3 1210.4,967.6 1210.7,967.6 1211.0,839.8 1211.7,839.5 1212.6,886.9 1213.7,839.0 1214.7,888.0 1215.8,838.3 1216.9,888.6 1217.7,839.3 1218.6,889.9 1219.7,839.6 1220.6,889.8 1221.7,838.3 1222.6,891.0 1222.7,822.5 1223.3,794.4 1224.1,863.4 1224.7,842.3 1225.7,892.3 1226.8,842.6 1227.9,892.5 1228.8,842.8 1229.9,893.6 1230.9,843.0 1231.9,894.0 1232.8,843.6 1233.6,894.3 1234.5,843.1 1235.6,895.5 1236.3,773.3 1237.5,967.6 1242.7,966.8 1248.5,949.5 1249.3,1087.2 1249.9,1044.5 1251.1,1089.0 1252.3,1044.3 1253.1,1088.1 1254.3,1044.9 1255.4,1089.4 1256.5,1050.9 1257.5,1088.9 1258.6,1061.4 1259.7,1088.5 1260.5,1143.0 1261.3,1073.0 1261.9,1061.6 1263.1,1089.1 1264.2,1050.3 1265.2,1088.8 1266.2,1045.1 1267.1,1088.8 1268.0,1044.6 1268.8,1088.9 1269.6,1045.1 1270.6,1089.1 1272.5,1162.8 1273.5,961.3 1275.5,958.2 1280.5,967.3 1285.7,967.6 1286.0,967.6 1286.3,836.5 1287.0,835.2 1287.8,883.9 1288.9,835.1 1290.0,884.3 1291.0,836.1 1291.9,885.7 1293.0,835.2 1293.9,886.3 1294.7,835.7 1295.6,886.3 1296.8,836.5 1298.0,819.2 1298.6,775.1 1299.4,860.1 1300.0,839.4 1301.2,888.5 1302.3,839.5 1303.4,889.7 1304.3,839.5 1305.1,889.5 1306.2,840.3 1307.4,890.6 1308.6,839.9 1309.7,891.6 1310.7,840.1 1311.6,772.9 1312.8,967.6 1318.0,966.8 1323.8,949.5 1324.6,1078.9 1325.2,1036.7 1326.4,1081.0 1327.3,1035.8 1328.5,1080.0 1329.5,1036.8 1330.5,1080.3 1331.4,1040.3 1332.3,1080.3 1333.1,1049.4 1334.2,1080.4 1335.8,1155.0 1336.6,1064.8 1337.2,1053.9 1338.0,1080.3 1339.0,1044.6 1340.0,1080.8 1341.0,1036.8 1342.2,1080.3 1343.2,1036.6 1344.3,1080.6 1345.3,1036.9 1346.1,1080.2 1347.8,1152.9 1348.8,961.3 1350.8,958.2 1355.8,967.3 1360.9,967.6 1361.2,967.6 1361.5,832.8 1362.2,832.1 1363.1,879.9 1364.0,831.3 1365.2,880.8 1366.3,831.8 1367.3,882.0 1368.1,832.5 1369.3,882.3 1370.3,831.9 1371.5,882.7 1372.3,832.3 1373.2,815.5 1373.8,771.1 1374.6,856.4 1375.2,835.9 1376.3,885.4 1377.3,835.6 1378.4,885.7 1379.4,836.0 1380.4,886.0 1381.4,835.4 1382.3,887.1 1383.3,836.3 1384.4,888.4 1385.3,835.9 1386.2,888.5 1386.8,781.4 1388.0,967.6 1393.2,966.8 1399.0,949.5 1399.8,1088.2 1400.4,1045.6 1401.4,1090.0 1402.2,1045.7 1403.2,1090.0 1404.0,1045.3 1405.0,1089.5 1405.9,1045.6 1406.7,1089.9 1407.6,1054.9 1408.8,1089.5 1409.7,1065.5 1411.0,1164.2 1411.8,1074.0 1412.4,1063.2 1413.3,1090.0 1414.4,1053.1 1415.5,1090.4 1416.3,1046.2 1417.3,1089.2 1418.4,1045.3 1419.5,1089.3 1420.6,1045.7 1421.5,1089.4 1423.0,1161.0 1424.0,961.3 1426.0,958.2 1431.0,967.3 1436.2,967.6 1436.5,967.6 1436.8,833.6 1437.5,832.9 1438.5,880.7 1439.3,832.3 1440.5,881.2 1441.4,833.1 1442.5,882.3 1443.5,832.6 1444.4,883.0 1445.4,832.6 1446.5,884.5 1447.3,832.8 1448.4,884.0 1448.5,816.2 1449.1,790.6 1449.9,857.2 1450.5,837.1 1451.5,886.0 1452.4,836.8 1453.3,886.2 1454.5,836.1 1455.4,886.9 1456.3,836.1 1457.5,887.2 1458.5,836.9 1459.4,888.9 1460.5,836.9 1462.1,775.7 1463.3,967.6 1468.5,966.8 1474.3,949.5 1475.1,1085.9 1475.7,1043.3 1476.6,1087.7 1477.5,1043.5 1478.5,1087.1 1479.3,1043.6 1480.5,1087.1 1481.5,1045.1 1482.3,1087.3 1483.5,1055.1 1484.5,1087.6 1485.3,1064.8 1486.3,1163.7 1487.1,1071.7 1487.7,1060.9 1488.7,1087.6 1489.7,1050.1 1490.8,1087.9 1491.6,1043.7 1492.5,1087.2 1493.7,1043.5 1494.9,1087.5 1495.8,1043.2 1496.6,1087.5 1498.3,1166.0 1499.3,961.3 1501.3,958.2 1506.3,967.3 1511.5,967.6 1511.8,967.6 1512.1,841.6 1512.8,841.0 1513.7,888.4 1514.8,841.3 1515.7,889.3 1516.9,840.9 1517.8,889.9 1518.7,840.4 1519.5,890.6 1520.6,841.5 1521.6,892.3 1522.6,840.5 1523.6,893.2 1523.8,824.3 1524.4,782.2 1525.2,865.2 1525.8,844.6 1526.8,894.1 1528.0,844.9 1529.0,894.5 1530.2,844.3 1531.1,895.5 1532.3,844.4 1533.2,896.1 1534.0,845.1 1535.2,896.4 1536.2,844.4 1537.4,781.3 1538.6,967.6 1543.8,966.8 1549.6,949.5 1550.4,1083.9 1551.0,1041.4 1551.8,1085.3 1552.8,1041.0 1554.0,1084.9 1555.0,1041.0 1555.9,1085.8 1557.1,1045.1 1558.1,1085.0 1559.2,1055.1 1560.3,1085.3 1561.6,1149.3 1562.4,1069.7 1563.0,1058.9 1564.0,1085.0 1564.9,1048.7 1565.8,1085.9 1566.9,1041.3 1567.8,1085.4 1568.7,1041.3 1569.7,1086.0 1570.6,1041.7 1571.5,1086.0 1572.6,1041.5 1573.6,1149.6 1574.6,961.3 1576.6,958.2 1581.6,967.3 1586.7,967.6 1587.0,967.6 1587.3,836.0 1588.0,835.7 1589.2,883.9 1590.2,835.0 1591.2,883.8 1592.2,834.8 1593.4,884.5 1594.3,835.3 1595.4,886.2 1596.6,835.0 1597.7,885.9 1598.5,836.0 1599.0,818.7 1599.6,773.7 1600.4,859.7 1601.0,839.1 1601.8,888.6 1602.9,838.9 1603.8,888.5 1604.8,839.4 1605.8,889.8 1606.9,839.5 1608.1,890.1 1609.1,839.4 1609.9,890.9 1611.0,838.6 1611.9,891.4 1612.6,777.8 1613.8,967.6 1619.0,966.8 1624.8,949.5 1625.6,1089.6 1626.2,1047.7 1627.2,1090.7 1628.3,1046.8 1629.4,1091.0 1630.5,1047.1 1631.4,1091.5 1632.3,1050.0 1633.4,1090.7 1634.5,1061.7 1635.3,1091.2 1636.8,1151.2 1637.6,1075.4 1638.2,1064.6 1639.1,1091.4 1640.0,1054.9 1640.9,1091.4 1641.9,1047.7 1643.0,1090.9 1644.0,1046.8 1645.0,1090.8 1645.9,1046.7 1647.0,1091.0 1648.8,1155.7 1649.8,961.3 1651.8,958.2 1656.8,967.3 1662.0,967.6 1662.3,967.6 1662.6,835.5 1663.3,834.3 1664.2,882.3 1665.2,834.9 1666.1,882.8 1667.3,834.5 1668.3,884.4 1669.5,834.8 1670.4,884.5 1671.2,834.0 1672.3,885.9 1673.3,834.8 1674.3,818.1 1674.9,770.2 1675.7,859.1 1676.3,839.3 1677.4,887.5 1678.2,838.0 1679.2,887.6 1680.1,838.9 1681.1,888.3 1682.1,838.4 1683.1,889.5 1684.2,839.2 1685.0,889.8 1685.9,838.1 1686.8,891.8 1687.9,786.6 1689.1,967.6 1694.3,966.8 1700.1,949.5 1700.9,1083.3 1701.5,1040.4 1702.7,1085.1 1703.7,1040.4 1704.8,1084.8 1705.9,1041.3 1707.0,1084.3 1708.2,1047.1 1709.3,1085.0 1710.3,1058.1 1712.1,1153.2 1712.9,1069.1 1713.5,1058.3 1714.6,1084.6 1715.5,1047.9 1716.6,1084.8 1717.5,1040.7 1718.4,1084.5 1719.5,1040.9 1720.6,1084.3 1721.8,1041.2 1722.8,1084.5 1724.1,1146.2 1725.1,961.3 1727.1,958.2 1732.1,967.3 1737.2,967.6 1737.5,967.6 1737.8,833.4 1738.5,832.8 1739.7,880.3 1740.8,832.8 1741.8,881.6 1742.9,832.8 1743.8,881.9 1744.9,832.8 1745.9,883.2 1746.8,832.0 1747.8,883.7 1748.9,833.3 1749.5,816.1 1750.1,774.8 1750.9,857.0 1751.5,836.3 1752.6,885.4 1753.6,835.9 1754.7,886.0 1755.7,837.3 1756.6,886.8 1757.5,836.2 1758.4,887.6 1759.5,837.1 1760.4,888.2 1761.4,835.8 1762.3,889.1 1763.1,779.1 1764.3,967.6 1769.5,966.8 1775.3,949.5 1776.1,1079.6 1776.7,1036.7 1777.9,1081.7 1778.8,1037.3 1779.6,1080.6 1780.6,1037.2 1781.6,1081.8 1782.4,1038.0 1783.5,1080.8 1784.6,1049.9 1785.4,1081.3 1786.3,1057.9 1787.3,1141.2 1788.1,1065.4 1788.7,1054.1 1789.7,1081.3 1790.5,1045.0 1791.6,1081.0 1792.7,1037.6 1793.7,1080.8 1794.9,1037.6 1795.7,1081.7 1796.8,1036.9 1797.6,1081.1 1799.3,1163.1 1800.3,961.3 1802.3,958.2 1807.3,967.3 1812.5,967.6 1812.8,967.6 1813.1,836.7 1813.8,835.5 1814.8,884.4 1815.9,835.9 1816.8,885.4 1817.7,835.7 1818.9,885.0 1819.7,835.5 1820.8,885.7 1821.7,835.7 1822.7,887.5 1823.7,836.4 1824.8,819.4 1825.4,792.6 1826.2,860.3 1826.8,840.0 1827.7,888.3 1828.6,840.4 1829.5,889.5 1830.3,840.3 1831.4,889.7 1832.5,840.6 1833.4,890.4 1834.4,839.9 1835.5,891.7 1836.7,840.6 1837.7,891.9 1838.4,773.4 1839.6,967.6 1844.8,966.8 1850.6,949.5 1851.4,1085.0 1852.0,1042.0 1852.9,1086.0 1854.1,1043.2 1855.1,1086.1 1856.2,1042.1 1857.0,1087.2 1858.1,1046.5 1859.0,1086.5 1860.1,1055.7 1861.0,1086.9 1862.6,1151.1 1863.4,1070.9 1864.0,1060.0 1865.0,1086.4 1866.0,1049.1 1866.9,1086.1 1867.7,1042.5 1868.8,1086.3 1869.9,1042.0 1870.9,1086.1 1871.7,1043.0 1872.8,1087.0 1873.6,1042.3 1874.6,1162.9 1875.6,961.3 1877.6,958.2 1882.6,967.3 1887.8,967.6 1888.1,967.6 1888.4,839.9 1889.1,839.4 1889.9,886.3 1890.9,838.8 1891.8,888.3 1892.8,839.5 1893.7,888.7 1894.8,838.6 1895.6,889.4 1896.5,839.7 1897.6,889.4 1898.4,838.4 1899.2,890.5 1900.1,822.6 1900.7,786.9 1901.5,863.5 1902.1,843.5 1903.3,891.4 1904.1,843.3 1905.1,892.9 1906.2,842.9 1907.2,894.3 1908.0,843.1 1909.0,895.0 1910.0,843.0 1911.1,895.8 1912.1,843.7 1913.0,895.2 1913.7,770.0 1914.9,967.6 1920.1,966.8 1925.9,949.5 1926.7,1080.4 1927.3,1038.5 1928.4,1081.8 1929.5,1038.2 1930.4,1082.6 1931.3,1037.4 1932.1,1081.9 1933.1,1039.8 1934.1,1081.5 1935.2,1051.2 1936.2,1081.6 1937.0,1059.9 1937.9,1146.2 1938.7,1066.2 1939.3,1054.6 1940.4,1081.8 1941.3,1044.6 1942.2,1081.8 1943.3,1038.2 1944.5,1082.4 1945.5,1037.6 1946.7,1081.9 1947.7,1037.7 1948.8,1081.9 1949.9,1161.2 1950.9,961.3 1952.9,958.2 1957.9,967.3 1963.0,967.6 1963.3,967.6 1963.6,837.8 1964.3,836.5 1965.2,884.4 1966.3,836.5 1967.4,886.1 1968.3,837.3 1969.1,885.8 1970.2,836.5 1971.3,887.3 1972.3,836.5 1973.1,887.5 1974.0,836.2 1975.0,888.9 1975.3,820.5 1975.9,769.3 1976.7,861.4 1977.3,840.5 1978.4,889.8 1979.6,840.2 1980.7,890.6 1981.9,840.2 1982.9,891.4 1984.0,841.2 1984.8,892.1 1985.8,841.0 1986.8,893.8 1987.9,841.0 1988.9,775.0 1990.1,967.6 1995.3,966.8 2001.1,949.5 2001.9,1082.8 2002.5,1039.9 2003.6,1084.3 2004.5,1040.0 2005.6,1084.2 2006.4,1040.7 2007.3,1084.7 2008.4,1042.6 2009.2,1084.2 2010.1,1051.6 2011.1,1084.7 2012.3,1062.0 2013.1,1148.9 2013.9,1068.6 2014.5,1057.2 2015.4,1084.2 2016.5,1047.7 2017.6,1084.1 2018.6,1040.6 2019.5,1085.0 2020.4,1040.7 2021.5,1084.9 2022.5,1040.2 2023.6,1084.9 2025.1,1163.8 2026.1,961.3 2028.1,958.2 2033.1,967.3 2038.3,967.6 2038.6,967.6 2038.9,839.4 2039.6,839.0 2040.4,886.2 2041.4,838.9 2042.6,887.0 2043.7,838.3 2044.9,888.1 2045.7,839.1 2046.5,888.2 2046.7,877.9"/>
<text x="242.5" y="1233.5" font-size="73.5" text-anchor="middle">20</text>
<text x="468.0" y="1233.5" font-size="73.5" text-anchor="middle">20.05</text>
<text x="693.6" y="1233.5" font-size="73.5" text-anchor="middle">20.1</text>
<text x="919.1" y="1233.5" font-size="73.5" text-anchor="middle">20.15</text>
<text x="1144.6" y="1233.5" font-size="73.5" text-anchor="middle">20.2</text>
<text x="1370.1" y="1233.5" font-size="73.5" text-anchor="middle">20.25</text>
<text x="1595.7" y="1233.5" font-size="73.5" text-anchor="middle">20.3</text>
<text x="1821.2" y="1233.5" font-size="73.5" text-anchor="middle">20.35</text>
<text x="2046.7" y="1233.5" font-size="73.5" text-anchor="middle">20.4</text>
<text x="221" y="834.6" font-size="73.5" text-anchor="end">10</text>
<text x="221" y="992.0" font-size="73.5" text-anchor="end">0</text>
<text x="221" y="1149.5" font-size="73.5" text-anchor="end">−10</text>
<text x="520.05" y="726.40" font-size="89.00" textLength="107.50" lengthAdjust="spacingAndGlyphs">(b)</text>
<text x="644.16" y="726.40" font-size="82.00" textLength="241.30" lengthAdjust="spacingAndGlyphs">Current</text>
<text x="904.42" y="726.40" font-size="82.00" textLength="164.68" lengthAdjust="spacingAndGlyphs">wave</text>
<text x="1085.37" y="726.40" font-size="82.00" textLength="210.39" lengthAdjust="spacingAndGlyphs">format</text>
<text x="1314.56" y="726.40" font-size="82.00" textLength="256.06" lengthAdjust="spacingAndGlyphs">medium</text>
<text x="1588.41" y="726.40" font-size="82.00" textLength="177.04" lengthAdjust="spacingAndGlyphs">speed</text>
<g transform="translate(73.5,0) rotate(-90)">
<text x="-1120.28" y="0.00" font-size="82.00" textLength="179.44" lengthAdjust="spacingAndGlyphs">Amp.</text>
<text x="-923.26" y="0.00" font-size="82.00" textLength="109.21" lengthAdjust="spacingAndGlyphs">(A)</text>
</g>
<g stroke="#000" stroke-width="5.0" fill="none">
<rect x="242.5" y="1397.5" width="1804.2" height="370.2"/>
<path d="M468.0 1767.7v-20.5M468.0 1397.5v20.5M693.6 1767.7v-20.5M693.6 1397.5v20.5M919.1 1767.7v-20.5M919.1 1397.5v20.5M1144.6 1767.7v-20.5M1144.6 1397.5v20.5M1370.1 1767.7v-20.5M1370.1 1397.5v20.5M1595.7 1767.7v-20.5M1595.7 1397.5v20.5M1821.2 1767.7v-20.5M1821.2 1397.5v20.5M242.5 1397.5h20.5M2046.7 1397.5h-20.5M242.5 1582.6h20.5M2046.7 1582.6h-20.5M242.5 1767.7h20.5M2046.7 1767.7h-20.5"/>
</g>
<clipPath id="clc"><rect x="0" y="1397.5" width="2128" height="370.2"/></clipPath>
<polyline clip-path="url(#clc)" fill="none" stroke="#0072BD" stroke-width="6.2" stroke-linejoin="round" stroke-linecap="round" points="242.5,1662.2 243.1,1650.4 244.0,1674.1 244.9,1650.0 245.9,1674.2 246.7,1709.6 247.4,1576.1 248.2,1576.1 252.8,1582.4 256.3,1582.6 256.6,1582.6 257.5,1508.4 257.9,1485.3 258.4,1483.4 259.3,1507.6 260.1,1481.6 261.1,1507.4 262.0,1480.0 262.8,1507.8 263.9,1478.7 265.0,1507.4 265.6,1448.2 266.5,1519.6 267.2,1494.6 267.8,1480.3 268.6,1507.8 269.7,1480.9 270.9,1507.4 271.7,1480.9 272.7,1507.1 273.7,1480.7 274.7,1507.7 275.8,1449.0 276.5,1502.9 278.3,1582.6 283.0,1582.1 286.8,1571.5 287.8,1670.8 288.4,1646.3 289.5,1675.7 290.7,1646.4 291.7,1675.0 292.7,1646.6 293.9,1670.9 294.9,1647.0 296.0,1670.4 296.7,1711.5 297.5,1662.4 298.1,1647.0 299.2,1671.1 300.2,1647.0 301.3,1670.5 302.4,1646.6 303.6,1670.5 304.5,1646.8 305.3,1671.1 306.4,1647.0 307.5,1714.9 308.2,1576.1 309.0,1576.1 313.6,1582.4 317.1,1582.6 317.4,1582.6 318.3,1507.2 318.7,1484.1 319.2,1481.7 320.3,1506.0 321.3,1479.9 322.2,1506.1 323.3,1479.2 324.4,1506.6 325.6,1476.8 326.4,1450.2 327.3,1518.3 328.0,1493.3 328.6,1479.5 329.6,1506.4 330.8,1479.7 331.8,1506.3 332.7,1479.7 333.8,1506.4 334.9,1479.7 335.9,1506.0 336.6,1441.4 337.3,1501.7 339.1,1582.6 343.8,1582.1 347.6,1571.5 348.6,1675.6 349.2,1651.9 350.2,1680.6 351.3,1651.3 352.1,1680.3 353.0,1651.6 353.9,1675.5 355.0,1651.5 355.9,1675.6 357.5,1715.8 358.3,1667.3 358.9,1651.4 359.8,1675.9 360.9,1651.5 361.9,1675.7 362.8,1651.4 363.8,1675.4 364.8,1651.2 365.9,1675.7 366.9,1651.9 368.3,1720.5 369.0,1576.1 369.8,1576.1 374.4,1582.4 377.9,1582.6 378.2,1582.6 379.1,1506.6 379.5,1483.5 380.0,1481.4 381.0,1506.0 382.0,1480.0 382.9,1505.7 383.7,1478.7 384.5,1506.0 385.7,1476.7 387.2,1446.8 388.1,1517.7 388.8,1492.7 389.4,1479.2 390.3,1506.0 391.1,1478.9 392.2,1505.5 393.2,1478.7 394.2,1505.4 395.3,1479.2 396.2,1505.5 397.4,1444.6 398.1,1501.1 399.9,1582.6 404.6,1582.1 408.4,1571.5 409.4,1676.3 410.0,1652.3 410.9,1681.1 412.0,1652.0 413.2,1680.7 414.3,1652.0 415.4,1676.3 416.5,1652.4 418.3,1715.8 419.1,1668.0 419.7,1652.1 420.5,1676.6 421.6,1652.2 422.8,1676.6 423.9,1652.1 425.0,1676.0 426.0,1652.6 427.0,1676.1 428.1,1652.0 429.1,1718.6 429.8,1576.1 430.6,1576.1 435.2,1582.4 438.7,1582.6 439.0,1582.6 439.9,1510.4 440.3,1487.2 440.8,1485.0 441.8,1509.4 442.6,1483.9 443.7,1509.2 444.6,1482.1 445.8,1509.2 446.7,1480.9 448.0,1445.5 448.9,1521.5 449.6,1496.5 450.2,1482.2 451.3,1509.1 452.5,1482.7 453.5,1509.7 454.4,1482.8 455.3,1509.5 456.5,1482.9 458.2,1448.3 458.9,1504.8 460.7,1582.6 465.4,1582.1 469.2,1571.5 470.2,1673.0 470.8,1648.9 471.8,1677.3 472.8,1649.3 474.0,1677.5 475.1,1648.8 476.1,1672.9 477.1,1649.0 478.0,1673.4 479.1,1707.8 479.9,1664.7 480.5,1649.1 481.6,1673.0 482.5,1649.0 483.3,1672.8 484.4,1649.0 485.4,1673.0 486.3,1649.3 487.1,1673.1 488.0,1648.9 489.0,1673.2 489.9,1714.1 490.6,1576.1 491.4,1576.1 496.0,1582.4 499.5,1582.6 499.8,1582.6 500.7,1509.8 501.1,1486.6 501.6,1484.1 502.7,1508.8 503.8,1482.7 504.7,1508.5 505.6,1481.7 506.5,1508.7 507.4,1480.2 508.8,1447.4 509.7,1520.9 510.4,1495.9 511.0,1481.8 512.1,1509.1 513.1,1482.4 514.2,1509.1 515.1,1482.2 516.1,1508.6 517.3,1481.9 518.3,1508.6 519.0,1444.9 519.7,1504.2 521.5,1582.6 526.2,1582.1 530.0,1571.5 531.0,1674.7 531.6,1650.6 532.7,1679.1 533.6,1650.7 534.6,1679.1 535.5,1650.5 536.7,1675.0 537.9,1650.7 539.1,1674.4 539.9,1718.3 540.7,1666.3 541.3,1650.8 542.3,1674.5 543.2,1650.9 544.3,1674.8 545.3,1650.5 546.4,1675.0 547.3,1650.3 548.4,1674.8 549.2,1650.3 550.7,1712.7 551.4,1576.1 552.2,1576.1 556.8,1582.4 560.2,1582.6 560.5,1582.6 561.4,1507.8 561.8,1484.7 562.3,1482.2 563.5,1506.8 564.5,1480.9 565.6,1507.0 566.6,1479.4 567.6,1506.8 568.7,1477.3 569.5,1450.2 570.4,1518.9 571.1,1493.9 571.8,1480.2 572.7,1507.3 573.8,1479.8 575.0,1506.9 576.1,1480.1 576.9,1506.9 578.1,1480.2 579.8,1445.9 580.4,1502.3 582.2,1582.6 586.9,1582.1 590.8,1571.5 591.8,1671.6 592.3,1647.8 593.4,1676.1 594.6,1647.5 595.7,1676.0 596.6,1647.3 597.6,1671.6 598.8,1647.8 599.7,1671.8 600.6,1716.3 601.4,1663.2 602.0,1647.3 603.1,1671.7 603.9,1647.8 605.0,1671.7 606.0,1647.5 607.1,1671.8 608.0,1647.1 609.2,1671.4 610.2,1647.7 611.4,1711.1 612.1,1576.1 612.9,1576.1 617.5,1582.4 621.0,1582.6 621.3,1582.6 622.2,1509.0 622.6,1485.9 623.1,1483.9 624.2,1508.5 625.1,1482.4 626.0,1507.9 627.2,1480.6 628.0,1507.9 629.0,1479.2 630.3,1449.1 631.2,1520.1 631.9,1495.1 632.5,1481.0 633.5,1508.2 634.5,1480.9 635.3,1508.3 636.4,1480.9 637.3,1507.8 638.2,1480.9 639.3,1508.1 640.5,1448.3 641.2,1503.5 643.0,1582.6 647.7,1582.1 651.5,1571.5 652.5,1670.2 653.1,1646.2 654.3,1674.8 655.3,1646.4 656.3,1674.5 657.3,1646.5 658.3,1670.3 659.5,1646.1 660.5,1670.0 661.4,1712.2 662.2,1661.9 662.8,1646.5 663.9,1670.1 664.9,1646.5 666.0,1670.5 666.9,1645.9 668.0,1670.4 669.0,1645.8 669.8,1670.5 670.9,1646.0 672.2,1709.7 672.9,1576.1 673.7,1576.1 678.3,1582.4 681.8,1582.6 682.1,1582.6 683.0,1508.1 683.4,1484.9 683.9,1482.6 685.0,1506.8 685.9,1481.4 686.9,1507.2 687.9,1479.9 688.9,1506.8 689.8,1477.9 691.1,1441.5 692.0,1519.2 692.7,1494.2 693.3,1480.6 694.3,1507.0 695.3,1480.0 696.4,1506.8 697.5,1479.9 698.4,1507.0 699.3,1480.5 700.5,1507.0 701.3,1451.1 702.0,1502.5 703.8,1582.6 708.5,1582.1 712.3,1571.5 713.3,1673.6 713.9,1649.7 715.1,1677.8 715.9,1649.4 716.7,1678.1 717.7,1649.6 718.6,1673.8 719.5,1649.5 720.7,1673.8 722.2,1717.3 723.0,1665.3 723.6,1649.8 724.6,1673.7 725.5,1649.7 726.4,1673.5 727.5,1649.6 728.4,1673.5 729.2,1649.4 730.1,1673.7 731.2,1649.6 733.0,1711.6 733.7,1576.1 734.5,1576.1 739.1,1582.4 742.6,1582.6 742.9,1582.6 743.8,1508.0 744.2,1484.9 744.7,1482.6 745.6,1506.9 746.7,1481.0 747.8,1506.9 748.7,1479.7 749.6,1507.3 750.4,1478.7 751.3,1506.9 751.9,1445.9 752.8,1519.1 753.5,1494.1 754.1,1480.0 755.2,1507.1 756.3,1480.4 757.2,1507.2 758.2,1480.3 759.1,1507.3 760.1,1480.4 761.3,1506.9 762.1,1449.5 762.8,1502.4 764.6,1582.6 769.3,1582.1 773.1,1571.5 774.1,1675.1 774.7,1650.8 775.6,1679.4 776.4,1651.1 777.4,1680.0 778.6,1650.7 779.5,1675.1 780.4,1651.3 781.4,1675.0 782.2,1651.1 783.0,1714.8 783.8,1666.8 784.4,1650.8 785.3,1675.4 786.2,1651.1 787.0,1675.4 787.9,1651.2 788.8,1675.4 789.9,1651.3 791.0,1674.9 792.2,1651.0 793.0,1674.9 793.8,1719.7 794.5,1576.1 795.3,1576.1 799.9,1582.4 803.4,1582.6 803.7,1582.6 804.6,1506.0 805.0,1482.9 805.5,1480.3 806.4,1505.0 807.5,1478.9 808.5,1505.5 809.4,1477.8 810.5,1505.4 811.6,1475.8 812.7,1445.1 813.6,1517.1 814.3,1492.1 814.9,1477.9 816.0,1505.4 817.1,1478.6 818.2,1504.8 819.2,1478.3 820.3,1505.3 821.5,1478.6 822.9,1444.9 823.6,1500.5 825.4,1582.6 830.1,1582.1 833.9,1571.5 834.9,1671.5 835.5,1647.1 836.5,1675.9 837.5,1647.4 838.5,1676.5 839.7,1647.5 840.5,1671.7 841.6,1647.1 842.7,1671.4 843.8,1718.0 844.6,1663.2 845.2,1647.1 846.4,1671.5 847.2,1647.7 848.1,1671.4 849.3,1647.4 850.1,1671.3 851.1,1647.1 852.3,1671.7 853.3,1647.7 854.6,1708.5 855.3,1576.1 856.1,1576.1 860.7,1582.4 864.2,1582.6 864.5,1582.6 865.4,1510.2 865.8,1487.0 866.3,1485.0 867.2,1509.3 868.3,1483.0 869.1,1509.6 870.0,1482.4 870.9,1509.2 872.0,1480.9 872.8,1509.2 873.5,1442.9 874.4,1521.3 875.1,1496.3 875.7,1482.1 876.5,1509.5 877.4,1482.1 878.4,1509.0 879.5,1482.4 880.7,1509.2 881.7,1482.3 882.7,1509.1 883.7,1448.5 884.4,1504.6 886.2,1582.6 890.9,1582.1 894.7,1571.5 895.7,1675.9 896.3,1651.7 897.2,1680.2 898.1,1652.2 899.1,1680.7 900.0,1652.1 901.2,1676.0 902.2,1651.8 903.0,1675.7 904.6,1718.9 905.4,1667.6 906.0,1651.9 906.8,1675.7 907.8,1651.7 908.9,1675.7 909.7,1652.1 910.8,1675.9 911.9,1651.6 913.0,1676.0 914.0,1651.9 915.4,1712.9 916.1,1576.1 916.9,1576.1 921.5,1582.4 925.0,1582.6 925.3,1582.6 926.2,1508.1 926.6,1485.0 927.1,1482.4 928.2,1507.0 929.4,1481.3 930.2,1507.0 931.3,1479.3 932.2,1507.4 933.4,1478.0 934.3,1448.3 935.2,1519.2 935.9,1494.2 936.5,1480.3 937.6,1506.8 938.4,1480.5 939.6,1507.3 940.7,1480.2 941.8,1507.2 942.7,1480.7 943.6,1507.3 944.5,1446.6 945.2,1502.6 947.0,1582.6 951.7,1582.1 955.5,1571.5 956.5,1674.4 957.1,1650.2 957.9,1679.4 958.9,1650.7 960.1,1679.0 961.1,1650.6 962.1,1674.7 963.2,1650.2 964.4,1674.7 965.4,1714.6 966.2,1666.1 966.8,1650.7 967.6,1674.4 968.5,1650.4 969.5,1674.2 970.6,1650.2 971.4,1674.6 972.4,1650.2 973.5,1674.5 974.4,1650.4 975.2,1674.8 976.2,1716.6 976.9,1576.1 977.7,1576.1 982.3,1582.4 985.8,1582.6 986.1,1582.6 987.0,1507.0 987.4,1483.8 987.9,1481.4 988.7,1506.4 989.9,1480.1 991.0,1506.0 991.9,1478.5 992.8,1506.0 993.9,1477.0 995.1,1441.8 996.0,1518.1 996.7,1493.1 997.3,1479.4 998.4,1505.7 999.6,1479.3 1000.7,1506.3 1001.5,1479.5 1002.4,1506.1 1003.3,1478.8 1004.3,1506.2 1005.3,1448.6 1006.0,1501.4 1007.8,1582.6 1012.5,1582.1 1016.3,1571.5 1017.3,1676.0 1017.9,1652.3 1019.1,1681.1 1020.2,1651.9 1021.2,1680.8 1022.2,1651.8 1023.3,1675.7 1024.4,1652.1 1025.2,1676.4 1026.2,1716.4 1027.0,1667.7 1027.6,1652.2 1028.6,1676.1 1029.7,1652.3 1030.6,1676.4 1031.5,1651.9 1032.7,1675.9 1033.6,1652.0 1034.8,1676.0 1035.8,1651.9 1037.0,1717.2 1037.7,1576.1 1038.5,1576.1 1043.1,1582.4 1046.6,1582.6 1046.9,1582.6 1047.8,1509.8 1048.2,1486.7 1048.7,1484.7 1049.8,1509.0 1050.9,1482.8 1051.8,1508.7 1052.6,1481.4 1053.6,1509.0 1054.4,1480.1 1055.9,1446.9 1056.8,1521.0 1057.5,1496.0 1058.1,1482.2 1059.1,1508.7 1060.1,1482.0 1061.3,1508.8 1062.3,1482.1 1063.4,1508.7 1064.4,1482.2 1065.3,1509.2 1066.1,1448.6 1066.8,1504.3 1068.6,1582.6 1073.3,1582.1 1077.1,1571.5 1078.1,1678.2 1078.7,1654.0 1079.7,1682.8 1080.8,1653.9 1081.7,1683.1 1082.9,1654.3 1083.8,1678.1 1084.7,1654.0 1085.9,1678.1 1087.0,1708.9 1087.8,1669.9 1088.4,1654.5 1089.4,1678.4 1090.3,1654.5 1091.2,1678.0 1092.3,1654.3 1093.4,1678.5 1094.3,1653.9 1095.1,1678.5 1096.3,1654.4 1097.8,1709.8 1098.5,1576.1 1099.3,1576.1 1103.9,1582.4 1107.4,1582.6 1107.7,1582.6 1108.6,1509.3 1109.0,1486.2 1109.5,1483.9 1110.6,1508.3 1111.7,1482.0 1112.6,1508.3 1113.5,1480.6 1114.7,1508.0 1115.8,1479.6 1116.7,1445.6 1117.6,1520.4 1118.3,1495.4 1118.9,1481.8 1119.7,1508.8 1120.6,1481.7 1121.6,1508.0 1122.4,1481.7 1123.4,1508.7 1124.4,1481.9 1125.4,1508.5 1126.9,1447.5 1127.6,1503.8 1129.4,1582.6 1134.1,1582.1 1137.9,1571.5 1138.9,1676.1 1139.5,1651.8 1140.5,1681.0 1141.7,1652.3 1142.9,1680.9 1144.0,1651.9 1144.8,1675.9 1145.7,1652.4 1146.7,1675.8 1147.8,1716.5 1148.6,1667.7 1149.2,1651.9 1150.3,1676.3 1151.2,1652.3 1152.3,1675.8 1153.2,1651.9 1154.0,1675.7 1154.8,1652.2 1155.7,1675.9 1156.6,1651.7 1157.5,1676.4 1158.6,1710.5 1159.3,1576.1 1160.1,1576.1 1164.7,1582.4 1168.1,1582.6 1168.5,1582.6 1169.4,1507.2 1169.8,1484.1 1170.2,1481.8 1171.1,1506.4 1171.9,1480.6 1173.1,1506.0 1173.9,1479.0 1175.0,1506.0 1176.2,1477.1 1177.5,1446.7 1178.4,1518.3 1179.0,1493.3 1179.7,1479.3 1180.5,1506.5 1181.4,1479.6 1182.6,1506.6 1183.7,1479.5 1184.5,1506.4 1185.4,1479.4 1186.3,1505.9 1187.7,1444.7 1188.4,1501.7 1190.2,1582.6 1194.9,1582.1 1198.7,1571.5 1199.7,1671.6 1200.2,1647.9 1201.2,1675.8 1202.1,1647.8 1203.0,1675.8 1204.2,1647.8 1205.1,1671.8 1205.9,1647.5 1206.8,1671.3 1207.8,1647.6 1208.5,1719.9 1209.4,1663.3 1210.0,1647.3 1210.8,1671.6 1211.7,1647.5 1212.6,1671.4 1213.6,1647.2 1214.4,1671.8 1215.4,1647.7 1216.2,1671.3 1217.3,1647.4 1218.2,1671.8 1219.4,1708.3 1220.0,1576.1 1220.9,1576.1 1225.5,1582.4 1228.9,1582.6 1229.2,1582.6 1230.1,1510.3 1230.5,1487.2 1231.0,1484.9 1231.9,1509.2 1233.1,1483.7 1234.1,1509.0 1235.1,1481.8 1236.1,1509.6 1237.0,1480.5 1238.2,1442.8 1239.1,1521.4 1239.8,1496.4 1240.4,1482.3 1241.6,1509.5 1242.7,1482.7 1243.7,1509.1 1244.8,1482.5 1245.9,1509.5 1247.0,1482.1 1248.4,1449.6 1249.1,1504.7 1250.9,1582.6 1255.6,1582.1 1259.4,1571.5 1260.4,1677.9 1261.0,1653.9 1261.9,1682.2 1262.8,1653.9 1263.9,1682.3 1265.0,1653.6 1265.8,1677.9 1266.9,1654.2 1268.0,1677.9 1269.3,1707.6 1270.1,1669.6 1270.7,1654.0 1271.6,1677.6 1272.6,1653.8 1273.6,1677.9 1274.5,1654.0 1275.7,1678.0 1276.6,1654.0 1277.6,1678.1 1278.6,1653.6 1280.1,1713.0 1280.8,1576.1 1281.6,1576.1 1286.2,1582.4 1289.7,1582.6 1290.0,1582.6 1290.9,1507.0 1291.3,1483.9 1291.8,1481.5 1292.7,1506.2 1293.6,1480.5 1294.7,1506.4 1295.8,1479.0 1296.8,1506.3 1297.9,1477.2 1299.0,1443.1 1299.9,1518.1 1300.6,1493.1 1301.2,1479.4 1302.3,1506.1 1303.3,1478.9 1304.3,1506.2 1305.2,1479.4 1306.0,1505.9 1307.0,1479.2 1308.0,1506.1 1309.2,1445.7 1309.9,1501.4 1311.7,1582.6 1316.4,1582.1 1320.2,1571.5 1321.2,1677.0 1321.8,1652.9 1322.9,1681.4 1323.8,1653.1 1324.9,1681.7 1325.8,1653.1 1326.7,1677.2 1327.7,1653.2 1328.8,1677.1 1330.1,1711.5 1330.9,1668.6 1331.5,1653.0 1332.4,1677.1 1333.4,1652.6 1334.2,1677.3 1335.3,1652.8 1336.4,1677.3 1337.4,1652.8 1338.3,1677.0 1339.2,1652.7 1340.2,1676.7 1340.9,1717.9 1341.6,1576.1 1342.4,1576.1 1347.0,1582.4 1350.5,1582.6 1350.8,1582.6 1351.7,1510.5 1352.1,1487.3 1352.6,1484.9 1353.7,1509.3 1354.7,1483.1 1355.8,1509.9 1356.6,1482.1 1357.7,1509.6 1358.6,1480.4 1359.8,1442.8 1360.7,1521.6 1361.4,1496.6 1362.0,1482.9 1363.1,1509.2 1364.0,1482.6 1364.8,1509.9 1365.8,1483.1 1366.9,1509.5 1367.9,1483.1 1368.9,1509.8 1370.0,1441.6 1370.7,1504.9 1372.5,1582.6 1377.2,1582.1 1381.0,1571.5 1382.0,1672.5 1382.6,1648.6 1383.8,1677.5 1384.9,1648.1 1385.9,1677.1 1386.8,1648.5 1387.6,1672.3 1388.6,1648.6 1389.7,1672.3 1390.9,1714.2 1391.7,1664.2 1392.3,1648.5 1393.4,1672.7 1394.5,1648.6 1395.6,1672.7 1396.7,1648.2 1397.7,1672.3 1398.8,1648.6 1399.7,1672.2 1400.6,1648.2 1401.7,1720.4 1402.4,1576.1 1403.2,1576.1 1407.8,1582.4 1411.3,1582.6 1411.6,1582.6 1412.5,1510.1 1412.9,1486.9 1413.4,1484.8 1414.4,1508.8 1415.4,1483.5 1416.6,1509.4 1417.6,1481.4 1418.7,1508.8 1419.7,1480.2 1420.6,1448.3 1421.5,1521.2 1422.2,1496.2 1422.8,1482.0 1423.8,1509.1 1425.0,1482.5 1425.8,1509.5 1426.9,1482.5 1427.8,1509.2 1428.7,1482.4 1429.8,1509.0 1430.8,1449.8 1431.5,1504.5 1433.3,1582.6 1438.0,1582.1 1441.8,1571.5 1442.8,1672.5 1443.4,1648.5 1444.5,1676.9 1445.4,1648.6 1446.5,1676.9 1447.3,1648.4 1448.2,1672.4 1449.3,1648.6 1450.1,1672.7 1451.0,1648.2 1451.7,1719.9 1452.5,1664.1 1453.1,1648.4 1454.1,1672.6 1455.1,1648.4 1456.0,1672.4 1457.1,1648.5 1458.0,1672.3 1459.2,1648.2 1460.3,1672.7 1461.5,1648.7 1462.5,1714.0 1463.2,1576.1 1464.0,1576.1 1468.6,1582.4 1472.1,1582.6 1472.4,1582.6 1473.3,1506.9 1473.7,1483.8 1474.2,1481.6 1475.0,1506.2 1476.0,1480.3 1476.8,1506.0 1477.8,1479.1 1478.8,1506.2 1479.9,1476.9 1481.4,1445.3 1482.3,1518.0 1483.0,1493.0 1483.6,1479.2 1484.8,1506.2 1485.6,1479.5 1486.6,1505.8 1487.6,1479.1 1488.5,1505.8 1489.6,1478.8 1490.6,1506.1 1491.6,1450.9 1492.3,1501.3 1494.1,1582.6 1498.8,1582.1 1502.6,1571.5 1503.6,1672.6 1504.2,1648.8 1505.2,1677.6 1506.1,1648.2 1507.0,1677.5 1507.9,1648.3 1508.9,1672.4 1509.9,1648.8 1511.0,1672.3 1512.5,1718.8 1513.3,1664.3 1513.9,1648.8 1515.0,1672.7 1516.1,1648.6 1517.0,1672.8 1517.8,1648.3 1519.0,1672.4 1520.1,1648.8 1521.2,1673.0 1522.2,1648.7 1523.3,1709.9 1524.0,1576.1 1524.8,1576.1 1529.4,1582.4 1532.9,1582.6 1533.2,1582.6 1534.1,1505.9 1534.5,1482.8 1535.0,1480.2 1535.8,1505.2 1536.8,1479.2 1537.7,1505.2 1538.7,1478.0 1539.6,1505.1 1540.6,1476.6 1542.2,1449.8 1543.1,1517.0 1543.8,1492.0 1544.4,1478.3 1545.3,1505.0 1546.4,1478.3 1547.3,1505.3 1548.2,1477.9 1549.1,1504.6 1550.3,1478.5 1551.3,1504.9 1552.4,1446.6 1553.1,1500.4 1554.9,1582.6 1559.6,1582.1 1563.4,1571.5 1564.4,1676.6 1565.0,1652.3 1565.8,1681.4 1566.9,1652.5 1568.1,1681.0 1569.1,1652.5 1570.0,1676.7 1571.0,1652.5 1571.8,1676.7 1573.3,1714.7 1574.1,1668.2 1574.7,1652.8 1575.6,1676.5 1576.7,1652.4 1577.8,1676.3 1578.6,1652.5 1579.7,1676.8 1580.8,1652.7 1581.7,1676.7 1582.7,1652.4 1584.1,1712.8 1584.8,1576.1 1585.6,1576.1 1590.2,1582.4 1593.7,1582.6 1594.0,1582.6 1594.9,1506.0 1595.3,1482.9 1595.8,1480.3 1596.7,1505.4 1597.7,1479.2 1598.9,1504.8 1599.7,1477.6 1600.7,1505.2 1601.6,1476.0 1603.0,1449.1 1603.9,1517.1 1604.6,1492.2 1605.2,1478.2 1606.0,1505.0 1607.0,1478.1 1607.9,1504.9 1608.8,1478.7 1609.7,1505.3 1610.5,1478.4 1611.4,1505.5 1612.3,1478.2 1613.2,1444.8 1613.9,1500.5 1615.7,1582.6 1620.4,1582.1 1624.2,1571.5 1625.2,1674.9 1625.8,1650.8 1626.8,1679.2 1627.8,1651.0 1629.0,1679.2 1630.0,1650.5 1631.0,1674.6 1632.1,1650.5 1632.9,1675.2 1634.1,1711.6 1634.9,1666.6 1635.5,1650.6 1636.7,1675.3 1637.8,1650.5 1638.8,1674.8 1640.0,1651.0 1641.2,1675.2 1642.1,1650.6 1643.3,1675.0 1644.9,1714.1 1645.6,1576.1 1646.4,1576.1 1651.0,1582.4 1654.5,1582.6 1654.8,1582.6 1655.7,1508.2 1656.1,1485.1 1656.6,1482.9 1657.5,1507.5 1658.4,1481.8 1659.2,1507.2 1660.3,1480.3 1661.3,1506.9 1662.3,1478.9 1663.8,1444.1 1664.7,1519.3 1665.4,1494.3 1666.0,1480.2 1667.0,1507.6 1668.2,1480.8 1669.2,1507.2 1670.2,1480.4 1671.1,1507.6 1671.9,1480.3 1672.9,1507.2 1674.0,1450.1 1674.7,1502.6 1676.5,1582.6 1681.2,1582.1 1685.0,1571.5 1686.0,1673.0 1686.6,1648.8 1687.6,1677.7 1688.8,1648.9 1689.7,1677.5 1690.9,1648.7 1692.0,1673.2 1693.1,1649.3 1694.0,1673.2 1694.9,1709.2 1695.7,1664.7 1696.3,1648.8 1697.4,1673.3 1698.3,1648.9 1699.3,1672.9 1700.5,1648.8 1701.4,1673.2 1702.5,1649.2 1703.6,1672.8 1704.7,1648.7 1705.7,1712.8 1706.4,1576.1 1707.2,1576.1 1711.8,1582.4 1715.3,1582.6 1715.6,1582.6 1716.5,1508.6 1716.9,1485.5 1717.4,1483.3 1718.2,1508.0 1719.4,1481.8 1720.4,1507.5 1721.4,1480.3 1722.5,1507.5 1723.4,1478.7 1724.6,1446.2 1725.5,1519.7 1726.2,1494.7 1726.8,1481.1 1727.8,1507.3 1728.7,1480.9 1729.6,1507.4 1730.5,1480.7 1731.6,1507.7 1732.5,1481.1 1733.4,1507.8 1734.8,1445.8 1735.5,1503.0 1737.3,1582.6 1742.0,1582.1 1745.8,1571.5 1746.8,1670.5 1747.4,1646.7 1748.3,1675.0 1749.2,1646.3 1750.2,1674.8 1751.1,1646.8 1752.2,1670.2 1753.1,1646.5 1754.2,1670.7 1755.7,1712.7 1756.5,1662.2 1757.1,1646.1 1758.0,1670.4 1758.8,1646.7 1759.7,1670.3 1760.5,1646.2 1761.4,1670.3 1762.3,1646.5 1763.2,1670.2 1764.4,1646.2 1765.6,1670.5 1766.5,1718.3 1767.2,1576.1 1768.0,1576.1 1772.6,1582.4 1776.0,1582.6 1776.3,1582.6 1777.2,1506.5 1777.6,1483.3 1778.1,1481.0 1779.1,1505.7 1780.0,1479.5 1780.9,1505.5 1782.0,1478.3 1783.0,1505.4 1784.0,1476.6 1785.3,1448.4 1786.2,1517.6 1786.9,1492.6 1787.5,1479.0 1788.4,1505.4 1789.5,1478.7 1790.4,1505.9 1791.3,1478.6 1792.4,1505.3 1793.4,1478.8 1794.3,1505.7 1795.5,1449.1 1796.2,1500.9 1798.0,1582.6 1802.8,1582.1 1806.5,1571.5 1807.5,1671.6 1808.1,1647.9 1809.2,1676.3 1810.3,1647.5 1811.3,1676.1 1812.3,1647.5 1813.2,1671.6 1814.2,1647.8 1815.3,1671.3 1816.4,1707.8 1817.2,1663.2 1817.8,1647.3 1818.8,1671.7 1819.9,1647.7 1820.8,1671.7 1821.6,1647.6 1822.5,1671.5 1823.5,1647.5 1824.5,1671.8 1825.4,1647.7 1827.2,1713.9 1827.9,1576.1 1828.8,1576.1 1833.3,1582.4 1836.8,1582.6 1837.1,1582.6 1838.0,1510.1 1838.4,1487.0 1838.9,1484.5 1839.8,1509.0 1840.9,1483.5 1842.1,1508.8 1843.2,1481.7 1844.3,1509.3 1845.2,1479.9 1846.1,1450.4 1847.0,1521.2 1847.7,1496.2 1848.3,1482.1 1849.5,1509.2 1850.6,1482.0 1851.5,1509.2 1852.6,1482.5 1853.7,1509.3 1854.9,1482.6 1856.3,1445.7 1857.0,1504.6 1858.8,1582.6 1863.5,1582.1 1867.3,1571.5 1868.3,1676.5 1868.9,1652.8 1870.1,1680.8 1870.9,1652.2 1871.9,1681.5 1872.8,1652.9 1874.0,1676.7 1874.8,1652.4 1875.9,1676.6 1877.2,1718.2 1878.0,1668.2 1878.6,1652.4 1879.6,1676.4 1880.7,1652.7 1881.8,1676.4 1882.7,1652.7 1883.8,1676.3 1884.7,1652.7 1885.9,1676.6 1887.0,1652.8 1888.0,1716.2 1888.7,1576.1 1889.5,1576.1 1894.1,1582.4 1897.6,1582.6 1897.9,1582.6 1898.8,1506.4 1899.2,1483.3 1899.7,1480.8 1900.5,1505.6 1901.5,1479.7 1902.4,1505.9 1903.6,1478.4 1904.4,1505.9 1905.3,1477.0 1906.2,1505.5 1906.9,1441.3 1907.8,1517.5 1908.5,1492.5 1909.1,1478.5 1910.1,1505.7 1910.9,1479.0 1911.8,1505.1 1912.7,1479.0 1913.5,1505.8 1914.5,1478.4 1915.7,1505.7 1917.1,1441.3 1917.8,1500.9 1919.6,1582.6 1924.3,1582.1 1928.1,1571.5 1929.1,1675.9 1929.7,1651.6 1930.8,1680.5 1931.7,1652.1 1932.7,1680.2 1933.6,1652.0 1934.7,1676.1 1935.7,1651.9 1936.9,1675.6 1938.0,1720.3 1938.8,1667.6 1939.4,1652.1 1940.6,1676.0 1941.5,1652.1 1942.7,1675.6 1943.8,1652.0 1944.9,1676.2 1945.8,1652.0 1946.9,1676.1 1947.9,1652.0 1948.8,1716.2 1949.5,1576.1 1950.3,1576.1 1954.9,1582.4 1958.4,1582.6 1958.7,1582.6 1959.6,1508.1 1960.0,1485.0 1960.5,1483.0 1961.5,1507.4 1962.4,1481.7 1963.3,1507.6 1964.5,1479.8 1965.7,1507.0 1966.9,1478.1 1967.7,1445.7 1968.6,1519.2 1969.3,1494.2 1969.9,1480.2 1971.1,1507.4 1972.2,1480.4 1973.2,1507.3 1974.3,1480.3 1975.2,1507.4 1976.1,1480.4 1977.9,1448.7 1978.6,1502.6 1980.4,1582.6 1985.1,1582.1 1988.9,1571.5 1989.9,1672.5 1990.5,1648.2 1991.7,1677.3 1992.8,1648.4 1994.0,1676.8 1995.0,1648.6 1996.0,1672.5 1997.2,1648.3 1998.8,1718.7 1999.6,1664.2 2000.2,1648.4 2001.3,1672.3 2002.5,1648.2 2003.5,1672.5 2004.4,1648.4 2005.3,1672.8 2006.5,1648.3 2007.4,1672.4 2008.2,1648.8 2009.6,1719.9 2010.3,1576.1 2011.1,1576.1 2015.7,1582.4 2019.2,1582.6 2019.5,1582.6 2020.4,1509.4 2020.8,1486.3 2021.3,1484.3 2022.1,1508.3 2023.1,1483.0 2024.1,1508.8 2025.1,1481.3 2026.1,1508.7 2027.2,1479.3 2028.5,1444.1 2029.4,1520.5 2030.1,1495.5 2030.7,1481.6 2031.6,1508.3 2032.5,1481.6 2033.4,1508.8 2034.4,1481.6 2035.3,1508.2 2036.4,1481.6 2037.4,1508.8 2038.7,1449.0 2039.4,1503.9 2041.2,1582.6 2045.9,1582.1 2046.7,1579.9"/>
<text x="242.5" y="1848.9" font-size="73.5" text-anchor="middle">20</text>
<text x="468.0" y="1848.9" font-size="73.5" text-anchor="middle">20.05</text>
<text x="693.6" y="1848.9" font-size="73.5" text-anchor="middle">20.1</text>
<text x="919.1" y="1848.9" font-size="73.5" text-anchor="middle">20.15</text>
<text x="1144.6" y="1848.9" font-size="73.5" text-anchor="middle">20.2</text>
<text x="1370.1" y="1848.9" font-size="73.5" text-anchor="middle">20.25</text>
<text x="1595.7" y="1848.9" font-size="73.5" text-anchor="middle">20.3</text>
<text x="1821.2" y="1848.9" font-size="73.5" text-anchor="middle">20.35</text>
<text x="2046.7" y="1848.9" font-size="73.5" text-anchor="middle">20.4</text>
<text x="221" y="1421.9" font-size="73.5" text-anchor="end">20</text>
<text x="221" y="1607.0" font-size="73.5" text-anchor="end">0</text>
<text x="221" y="1792.1" font-size="73.5" text-anchor="end">−20</text>
<text x="594.81" y="1352.50" font-size="78.00" textLength="85.58" lengthAdjust="spacingAndGlyphs">(c)</text>
<text x="695.98" y="1352.50" font-size="80.50" textLength="239.88" lengthAdjust="spacingAndGlyphs">Current</text>
<text x="957.53" y="1352.50" font-size="80.50" textLength="160.61" lengthAdjust="spacingAndGlyphs">wave</text>
<text x="1135.31" y="1352.50" font-size="80.50" textLength="207.45" lengthAdjust="spacingAndGlyphs">format</text>
<text x="1361.15" y="1352.50" font-size="80.50" textLength="136.16" lengthAdjust="spacingAndGlyphs">high</text>
<text x="1516.64" y="1352.50" font-size="80.50" textLength="175.30" lengthAdjust="spacingAndGlyphs">speed</text>
<g transform="translate(75.0,0) rotate(-90)">
<text x="-1734.48" y="0.00" font-size="82.00" textLength="180.47" lengthAdjust="spacingAndGlyphs">Amp.</text>
<text x="-1537.52" y="0.00" font-size="82.00" textLength="111.35" lengthAdjust="spacingAndGlyphs">(A)</text>
</g>
<text x="972.29" y="1942.80" font-size="80.00" textLength="194.52" lengthAdjust="spacingAndGlyphs">Times</text>
<text x="1185.29" y="1942.80" font-size="76.00" textLength="81.92" lengthAdjust="spacingAndGlyphs">(s)</text>
</svg></body></html>
